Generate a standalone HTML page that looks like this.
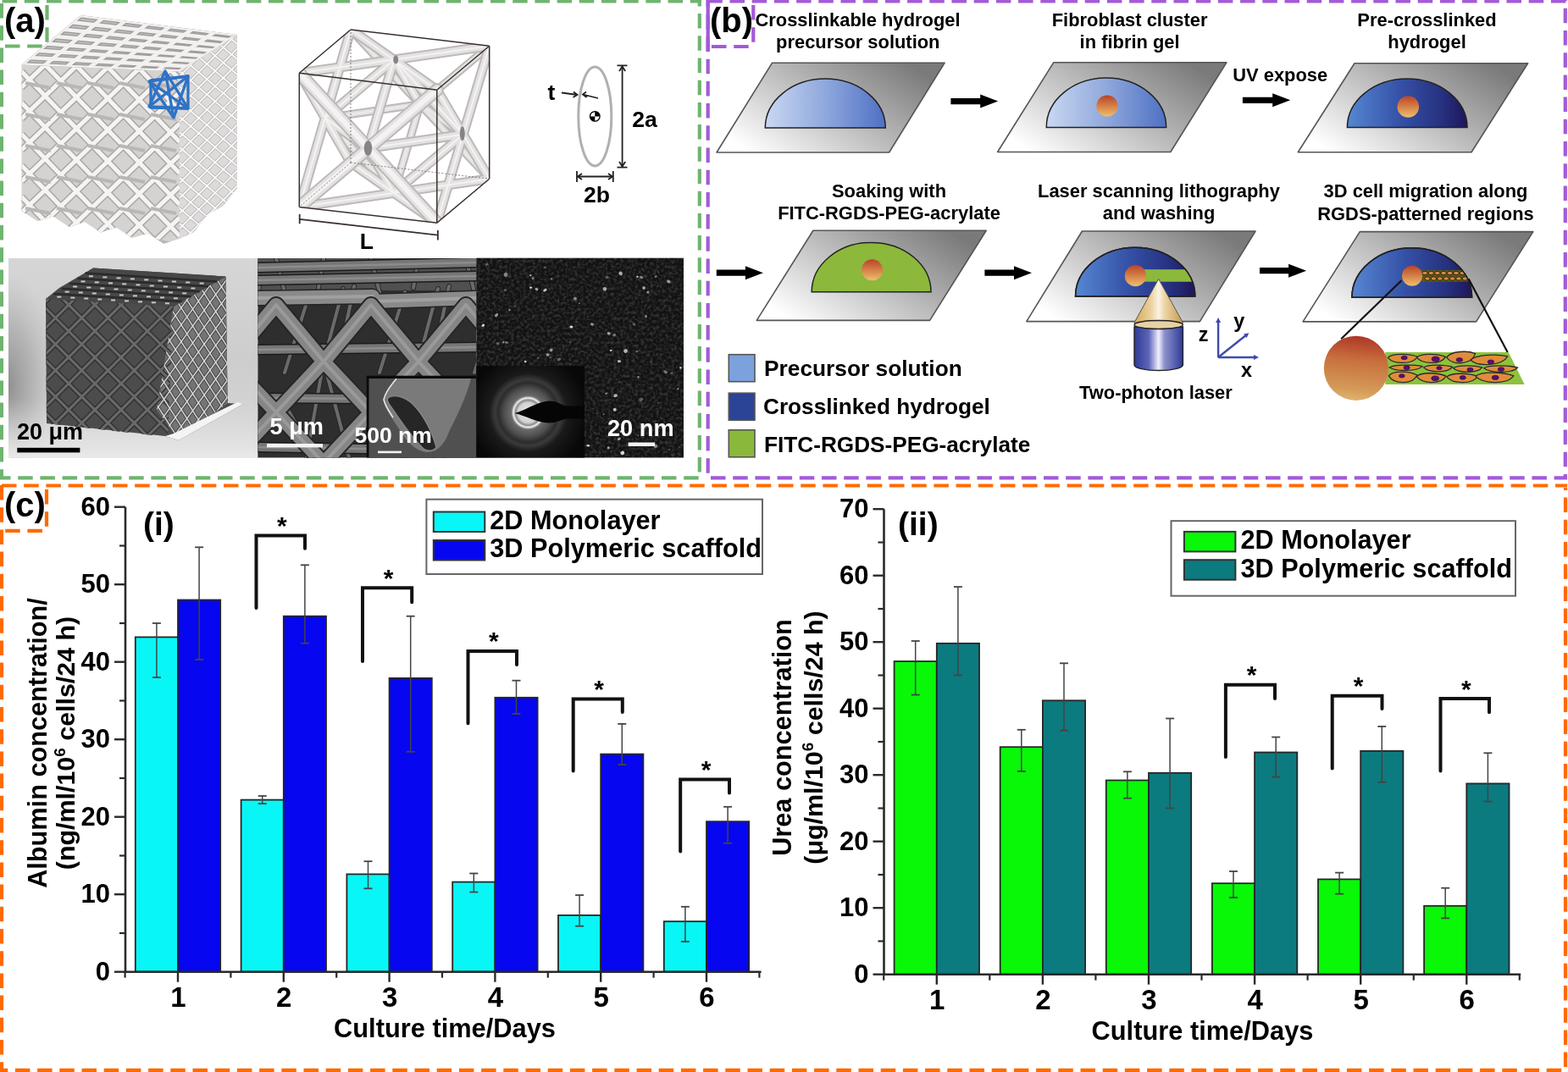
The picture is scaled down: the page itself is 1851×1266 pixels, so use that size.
<!DOCTYPE html>
<html><head><meta charset="utf-8"><title>Figure</title>
<style>
html,body{margin:0;padding:0;background:#fff;}
body{width:1851px;height:1266px;overflow:hidden;}
svg{display:block;}
text{font-family:"Liberation Sans",Arial,sans-serif;font-weight:bold;fill:#000;}
</style></head>
<body>
<svg width="1851" height="1266" viewBox="0 0 1851 1266">
<rect x="0" y="0" width="1851" height="1266" fill="#fff"/>
<line x1="2.6" y1="1.4" x2="828" y2="1.4" stroke="#6fb46f" stroke-width="4.2" stroke-dasharray="17.5 8.7" stroke-dashoffset="0"/>
<line x1="1.9" y1="4" x2="1.9" y2="566" stroke="#6fb46f" stroke-width="4.2" stroke-dasharray="17.5 8.7" stroke-dashoffset="0"/>
<line x1="825.8" y1="-10.1" x2="825.8" y2="562" stroke="#6fb46f" stroke-width="4.2" stroke-dasharray="17.5 8.7" stroke-dashoffset="0"/>
<line x1="-5" y1="564.3" x2="828" y2="564.3" stroke="#6fb46f" stroke-width="4.2" stroke-dasharray="17.5 8.7" stroke-dashoffset="0"/>
<line x1="55.5" y1="6" x2="55.5" y2="57" stroke="#6fb46f" stroke-width="4.2" stroke-dasharray="17.5 8.7" stroke-dashoffset="0"/>
<line x1="6" y1="54.5" x2="57" y2="54.5" stroke="#6fb46f" stroke-width="4.2" stroke-dasharray="17.5 8.7" stroke-dashoffset="0"/>
<line x1="835.3" y1="1.4" x2="1851" y2="1.4" stroke="#a35ad8" stroke-width="4.2" stroke-dasharray="17.5 8.7" stroke-dashoffset="0"/>
<line x1="835.7" y1="-8.9" x2="835.7" y2="566" stroke="#a35ad8" stroke-width="4.2" stroke-dasharray="17.5 8.7" stroke-dashoffset="0"/>
<line x1="835.7" y1="0" x2="835.7" y2="60.6" stroke="#a35ad8" stroke-width="4.2"/>
<line x1="1847.8" y1="-16.4" x2="1847.8" y2="566" stroke="#a35ad8" stroke-width="4.2" stroke-dasharray="17.5 8.7" stroke-dashoffset="0"/>
<line x1="839" y1="564.3" x2="1850" y2="564.3" stroke="#a35ad8" stroke-width="4.2" stroke-dasharray="17.5 8.7" stroke-dashoffset="0"/>
<line x1="889.3" y1="6" x2="889.3" y2="57" stroke="#a35ad8" stroke-width="4.2" stroke-dasharray="17.5 8.7" stroke-dashoffset="0"/>
<line x1="840" y1="55" x2="890" y2="55" stroke="#a35ad8" stroke-width="4.2" stroke-dasharray="17.5 8.7" stroke-dashoffset="0"/>
<line x1="2" y1="573.5" x2="1850" y2="573.5" stroke="#ff6a00" stroke-width="4.2" stroke-dasharray="17.5 8.7" stroke-dashoffset="0"/>
<line x1="2" y1="573" x2="2" y2="1266" stroke="#ff6a00" stroke-width="4.2" stroke-dasharray="17.5 8.7" stroke-dashoffset="0"/>
<line x1="1848" y1="576" x2="1848" y2="1266" stroke="#ff6a00" stroke-width="4.2" stroke-dasharray="17.5 8.7" stroke-dashoffset="14.6"/>
<line x1="2" y1="1263.8" x2="1850" y2="1263.8" stroke="#ff6a00" stroke-width="4.2" stroke-dasharray="17.5 8.7" stroke-dashoffset="10.3"/>
<line x1="55" y1="578" x2="55" y2="628" stroke="#ff6a00" stroke-width="4.2" stroke-dasharray="17.5 8.7" stroke-dashoffset="0"/>
<line x1="6.2" y1="626.8" x2="57" y2="626.8" stroke="#ff6a00" stroke-width="4.2" stroke-dasharray="17.5 8.7" stroke-dashoffset="0"/>
<defs>
<clipPath id="latFront"><polygon points="25.5,76.4 212,84.5 212.0,282.0 193.3,287.7 174.7,275.4 156.1,281.1 137.4,268.8 118.8,274.5 100.1,262.2 81.5,267.9 62.8,255.6 44.2,261.3 25.5,249.0"/></clipPath>
<clipPath id="latRight"><polygon points="212,84.5 280,41 280.0,222.0 263.0,244.0 246.0,252.0 229.0,274.0 212.0,282.0"/></clipPath>
<clipPath id="latTop"><polygon points="25.5,76.4 95,18 280,41 212,84.5"/></clipPath>
<clipPath id="sem1"><rect x="10" y="305" width="294.4" height="235.5"/></clipPath>
<clipPath id="sem2"><rect x="304.4" y="305" width="258.1" height="235.5"/></clipPath>
<clipPath id="tem"><rect x="562.5" y="304.7" width="244.5" height="235.8"/></clipPath>
<clipPath id="ins1"><rect x="435.5" y="447" width="127" height="93.5"/></clipPath>
<clipPath id="cubeFront"><polygon points="54,353 205,362 198,516 55,500"/></clipPath>
<clipPath id="cubeRight"><polygon points="205,362 266.5,326.5 268.7,476 211,519 185,484"/></clipPath>
<linearGradient id="sem1bg" x1="0" y1="0" x2="0" y2="1">
 <stop offset="0" stop-color="#d6d6d6"/><stop offset="0.5" stop-color="#cdcdcd"/><stop offset="1" stop-color="#d8d8d8"/>
</linearGradient>
<radialGradient id="sem1dark" gradientUnits="userSpaceOnUse" cx="8" cy="455" r="70" gradientTransform="translate(8 455) scale(0.85 1.9) translate(-8 -455)">
 <stop offset="0" stop-color="#8a8a8a" stop-opacity="0.95"/><stop offset="0.5" stop-color="#9c9c9c" stop-opacity="0.55"/><stop offset="1" stop-color="#b0b0b0" stop-opacity="0"/>
</radialGradient>
<linearGradient id="sem1floor" x1="0" y1="0" x2="0" y2="1">
 <stop offset="0" stop-color="#d8d8d8" stop-opacity="0"/><stop offset="1" stop-color="#e9e9e9" stop-opacity="1"/>
</linearGradient>
<radialGradient id="diff" gradientUnits="userSpaceOnUse" cx="623.4" cy="487.3" r="70">
 <stop offset="0" stop-color="#ececec"/><stop offset="0.17" stop-color="#d2d2d2"/><stop offset="0.215" stop-color="#8a8a8a"/><stop offset="0.245" stop-color="#f2f2f2"/><stop offset="0.285" stop-color="#6a6a6a"/><stop offset="0.4" stop-color="#505050"/><stop offset="0.5" stop-color="#2c2c2c"/><stop offset="0.56" stop-color="#3a3a3a"/><stop offset="0.66" stop-color="#1a1a1a"/><stop offset="1" stop-color="#080808"/>
</radialGradient>
<filter id="noiseT" x="0" y="0" width="1" height="1">
 <feTurbulence type="fractalNoise" baseFrequency="0.28" numOctaves="3" seed="5" result="n"/>
 <feColorMatrix type="matrix" values="0 0 0 0 1  0 0 0 0 1  0 0 0 0 1  1.7 0 0 0 -0.68" in="n" result="a0"/>
 <feGaussianBlur in="a0" stdDeviation="0.6" result="a"/>
 <feComposite operator="in" in="a" in2="SourceGraphic"/>
</filter>
<filter id="blur1"><feGaussianBlur stdDeviation="0.7"/></filter>
<filter id="blur2"><feGaussianBlur stdDeviation="1.2"/></filter>
</defs>
<polygon points="25.5,76.4 212,84.5 212.0,282.0 193.3,287.7 174.7,275.4 156.1,281.1 137.4,268.8 118.8,274.5 100.1,262.2 81.5,267.9 62.8,255.6 44.2,261.3 25.5,249.0" fill="#d5d2d2"/>
<polygon points="212,84.5 280,41 280.0,222.0 263.0,244.0 246.0,252.0 229.0,274.0 212.0,282.0" fill="#dddada"/>
<polygon points="25.5,76.4 95,18 280,41 212,84.5" fill="#c4c1c1"/>
<g clip-path="url(#latFront)"><path d="M25.5,-211.5 L212,-17.5 M25.5,-193.0 L212,-372.0 M25.5,-174.5 L212,19.5 M25.5,-156.0 L212,-335.0 M25.5,-137.5 L212,56.5 M25.5,-119.0 L212,-298.0 M25.5,-100.5 L212,93.5 M25.5,-82.0 L212,-261.0 M25.5,-63.5 L212,130.5 M25.5,-45.0 L212,-224.0 M25.5,-26.5 L212,167.5 M25.5,-8.0 L212,-187.0 M25.5,10.5 L212,204.5 M25.5,29.0 L212,-150.0 M25.5,47.5 L212,241.5 M25.5,66.0 L212,-113.0 M25.5,84.5 L212,278.5 M25.5,103.0 L212,-76.0 M25.5,121.5 L212,315.5 M25.5,140.0 L212,-39.0 M25.5,158.5 L212,352.5 M25.5,177.0 L212,-2.0 M25.5,195.5 L212,389.5 M25.5,214.0 L212,35.0 M25.5,232.5 L212,426.5 M25.5,251.0 L212,72.0 M25.5,269.5 L212,463.5 M25.5,288.0 L212,109.0 M25.5,306.5 L212,500.5 M25.5,325.0 L212,146.0 M25.5,343.5 L212,537.5 M25.5,362.0 L212,183.0 M25.5,380.5 L212,574.5 M25.5,399.0 L212,220.0 M25.5,417.5 L212,611.5 M25.5,436.0 L212,257.0 M25.5,454.5 L212,648.5 M25.5,473.0 L212,294.0 M25.5,491.5 L212,685.5 M25.5,510.0 L212,331.0 M25.5,528.5 L212,722.5 M25.5,547.0 L212,368.0 M25.5,565.5 L212,759.5 M25.5,584.0 L212,405.0 M25.5,602.5 L212,796.5 M25.5,621.0 L212,442.0 M25.5,639.5 L212,833.5 M25.5,658.0 L212,479.0" stroke="#aaa7a7" stroke-width="8" fill="none"/><path d="M25.5,-211.5 L212,-17.5 M25.5,-193.0 L212,-372.0 M25.5,-174.5 L212,19.5 M25.5,-156.0 L212,-335.0 M25.5,-137.5 L212,56.5 M25.5,-119.0 L212,-298.0 M25.5,-100.5 L212,93.5 M25.5,-82.0 L212,-261.0 M25.5,-63.5 L212,130.5 M25.5,-45.0 L212,-224.0 M25.5,-26.5 L212,167.5 M25.5,-8.0 L212,-187.0 M25.5,10.5 L212,204.5 M25.5,29.0 L212,-150.0 M25.5,47.5 L212,241.5 M25.5,66.0 L212,-113.0 M25.5,84.5 L212,278.5 M25.5,103.0 L212,-76.0 M25.5,121.5 L212,315.5 M25.5,140.0 L212,-39.0 M25.5,158.5 L212,352.5 M25.5,177.0 L212,-2.0 M25.5,195.5 L212,389.5 M25.5,214.0 L212,35.0 M25.5,232.5 L212,426.5 M25.5,251.0 L212,72.0 M25.5,269.5 L212,463.5 M25.5,288.0 L212,109.0 M25.5,306.5 L212,500.5 M25.5,325.0 L212,146.0 M25.5,343.5 L212,537.5 M25.5,362.0 L212,183.0 M25.5,380.5 L212,574.5 M25.5,399.0 L212,220.0 M25.5,417.5 L212,611.5 M25.5,436.0 L212,257.0 M25.5,454.5 L212,648.5 M25.5,473.0 L212,294.0 M25.5,491.5 L212,685.5 M25.5,510.0 L212,331.0 M25.5,528.5 L212,722.5 M25.5,547.0 L212,368.0 M25.5,565.5 L212,759.5 M25.5,584.0 L212,405.0 M25.5,602.5 L212,796.5 M25.5,621.0 L212,442.0 M25.5,639.5 L212,833.5 M25.5,658.0 L212,479.0" stroke="#f6f3f3" stroke-width="5" fill="none"/></g>
<g clip-path="url(#latFront)"><path d="M30.0,98.0 l30,6 M67.0,98.0 l30,6 M104.0,98.0 l30,6 M141.0,98.0 l30,6 M178.0,98.0 l30,6 M215.0,98.0 l30,6 M30.0,135.0 l30,6 M67.0,135.0 l30,6 M104.0,135.0 l30,6 M141.0,135.0 l30,6 M178.0,135.0 l30,6 M215.0,135.0 l30,6 M30.0,172.0 l30,6 M67.0,172.0 l30,6 M104.0,172.0 l30,6 M141.0,172.0 l30,6 M178.0,172.0 l30,6 M215.0,172.0 l30,6 M30.0,209.0 l30,6 M67.0,209.0 l30,6 M104.0,209.0 l30,6 M141.0,209.0 l30,6 M178.0,209.0 l30,6 M215.0,209.0 l30,6 M30.0,246.0 l30,6 M67.0,246.0 l30,6 M104.0,246.0 l30,6 M141.0,246.0 l30,6 M178.0,246.0 l30,6 M215.0,246.0 l30,6 M30.0,283.0 l30,6 M67.0,283.0 l30,6 M104.0,283.0 l30,6 M141.0,283.0 l30,6 M178.0,283.0 l30,6 M215.0,283.0 l30,6 M30.0,320.0 l30,6 M67.0,320.0 l30,6 M104.0,320.0 l30,6 M141.0,320.0 l30,6 M178.0,320.0 l30,6 M215.0,320.0 l30,6" stroke="#b9b6b6" stroke-width="4" fill="none"/></g>
<g clip-path="url(#latRight)"><path d="M212,-90.0 L280,-158.5 M212,-150.0 L280,-92.0 M212,-72.0 L280,-140.5 M212,-132.0 L280,-74.0 M212,-54.0 L280,-122.5 M212,-114.0 L280,-56.0 M212,-36.0 L280,-104.5 M212,-96.0 L280,-38.0 M212,-18.0 L280,-86.5 M212,-78.0 L280,-20.0 M212,0.0 L280,-68.5 M212,-60.0 L280,-2.0 M212,18.0 L280,-50.5 M212,-42.0 L280,16.0 M212,36.0 L280,-32.5 M212,-24.0 L280,34.0 M212,54.0 L280,-14.5 M212,-6.0 L280,52.0 M212,72.0 L280,3.5 M212,12.0 L280,70.0 M212,90.0 L280,21.5 M212,30.0 L280,88.0 M212,108.0 L280,39.5 M212,48.0 L280,106.0 M212,126.0 L280,57.5 M212,66.0 L280,124.0 M212,144.0 L280,75.5 M212,84.0 L280,142.0 M212,162.0 L280,93.5 M212,102.0 L280,160.0 M212,180.0 L280,111.5 M212,120.0 L280,178.0 M212,198.0 L280,129.5 M212,138.0 L280,196.0 M212,216.0 L280,147.5 M212,156.0 L280,214.0 M212,234.0 L280,165.5 M212,174.0 L280,232.0 M212,252.0 L280,183.5 M212,192.0 L280,250.0 M212,270.0 L280,201.5 M212,210.0 L280,268.0 M212,288.0 L280,219.5 M212,228.0 L280,286.0 M212,306.0 L280,237.5 M212,246.0 L280,304.0 M212,324.0 L280,255.5 M212,264.0 L280,322.0" stroke="#b8b5b5" stroke-width="3.5" fill="none"/><path d="M212,-90.0 L280,-158.5 M212,-150.0 L280,-92.0 M212,-72.0 L280,-140.5 M212,-132.0 L280,-74.0 M212,-54.0 L280,-122.5 M212,-114.0 L280,-56.0 M212,-36.0 L280,-104.5 M212,-96.0 L280,-38.0 M212,-18.0 L280,-86.5 M212,-78.0 L280,-20.0 M212,0.0 L280,-68.5 M212,-60.0 L280,-2.0 M212,18.0 L280,-50.5 M212,-42.0 L280,16.0 M212,36.0 L280,-32.5 M212,-24.0 L280,34.0 M212,54.0 L280,-14.5 M212,-6.0 L280,52.0 M212,72.0 L280,3.5 M212,12.0 L280,70.0 M212,90.0 L280,21.5 M212,30.0 L280,88.0 M212,108.0 L280,39.5 M212,48.0 L280,106.0 M212,126.0 L280,57.5 M212,66.0 L280,124.0 M212,144.0 L280,75.5 M212,84.0 L280,142.0 M212,162.0 L280,93.5 M212,102.0 L280,160.0 M212,180.0 L280,111.5 M212,120.0 L280,178.0 M212,198.0 L280,129.5 M212,138.0 L280,196.0 M212,216.0 L280,147.5 M212,156.0 L280,214.0 M212,234.0 L280,165.5 M212,174.0 L280,232.0 M212,252.0 L280,183.5 M212,192.0 L280,250.0 M212,270.0 L280,201.5 M212,210.0 L280,268.0 M212,288.0 L280,219.5 M212,228.0 L280,286.0 M212,306.0 L280,237.5 M212,246.0 L280,304.0 M212,324.0 L280,255.5 M212,264.0 L280,322.0" stroke="#fbfafa" stroke-width="1.8" fill="none"/></g>
<g clip-path="url(#latTop)"><path d="M25.5,76.4 L212.0,84.5 M35.4,68.1 L221.7,78.3 M45.4,59.7 L231.4,72.1 M55.3,51.4 L241.1,65.9 M65.2,43.0 L250.9,59.6 M75.1,34.7 L260.6,53.4 M85.1,26.3 L270.3,47.2 M95.0,18.0 L280.0,41.0 M25.5,76.4 L95.0,18.0 M52.1,77.6 L121.4,21.3 M78.8,78.7 L147.9,24.6 M105.4,79.9 L174.3,27.9 M132.1,81.0 L200.7,31.1 M158.7,82.2 L227.1,34.4 M185.4,83.3 L253.6,37.7 M212.0,84.5 L280.0,41.0" stroke="#a09d9d" stroke-width="7.5" fill="none"/><path d="M25.5,76.4 L212.0,84.5 M35.4,68.1 L221.7,78.3 M45.4,59.7 L231.4,72.1 M55.3,51.4 L241.1,65.9 M65.2,43.0 L250.9,59.6 M75.1,34.7 L260.6,53.4 M85.1,26.3 L270.3,47.2 M95.0,18.0 L280.0,41.0 M25.5,76.4 L95.0,18.0 M52.1,77.6 L121.4,21.3 M78.8,78.7 L147.9,24.6 M105.4,79.9 L174.3,27.9 M132.1,81.0 L200.7,31.1 M158.7,82.2 L227.1,34.4 M185.4,83.3 L253.6,37.7 M212.0,84.5 L280.0,41.0" stroke="#f3f0f0" stroke-width="4.5" fill="none"/></g>
<g stroke="#2e73c6" stroke-width="3.3" fill="none" stroke-linejoin="round"><polygon points="176,96 222,90 205,139"/><polygon points="176,126 222,128 195,84"/><polygon points="178,95 178,127 222,128 222,90"/><line x1="195" y1="84" x2="205" y2="139"/><line x1="176" y1="96" x2="222" y2="128"/><line x1="176" y1="126" x2="222" y2="90"/></g>
<clipPath id="ucHull"><polygon points="353.3,86.3 414,35 577.7,54.3 577.7,211.2 515.8,263.2 353.3,244.4"/></clipPath>
<g clip-path="url(#ucHull)">
<path d="M414.0,35.0 L577.7,211.2 M414.0,192.0 L577.7,54.3 M465.2,227.7 L495.9,123.1 M465.2,227.7 L383.6,139.4 M495.9,123.1 L383.6,139.4 M495.9,123.1 L546.8,158.7" stroke="#bdb9b9" stroke-width="10" fill="none" stroke-linecap="round"/><path d="M414.0,35.0 L577.7,211.2 M414.0,192.0 L577.7,54.3 M465.2,227.7 L495.9,123.1 M465.2,227.7 L383.6,139.4 M495.9,123.1 L383.6,139.4 M495.9,123.1 L546.8,158.7" stroke="#e4e1e1" stroke-width="6" fill="none" stroke-linecap="round"/><path d="M414.0,35.0 L577.7,211.2 M414.0,192.0 L577.7,54.3 M465.2,227.7 L495.9,123.1 M465.2,227.7 L383.6,139.4 M495.9,123.1 L383.6,139.4 M495.9,123.1 L546.8,158.7" stroke="#f4f3f3" stroke-width="1" fill="none" stroke-linecap="round"/>
<path d="M414.0,35.0 L515.8,106.2 M353.3,86.3 L577.7,54.3 M515.8,106.2 L577.7,211.2 M577.7,54.3 L515.8,263.2 M353.3,86.3 L414.0,192.0 M414.0,35.0 L353.3,244.4 M353.3,244.4 L577.7,211.2 M414.0,192.0 L515.8,263.2 M465.2,70.5 L434.5,175.0 M465.2,70.5 L495.9,123.1 M465.2,70.5 L383.6,139.4 M465.2,70.5 L546.8,158.7 M465.2,227.7 L434.5,175.0 M465.2,227.7 L546.8,158.7 M434.5,175.0 L383.6,139.4 M434.5,175.0 L546.8,158.7" stroke="#bdb9b9" stroke-width="12" fill="none" stroke-linecap="round"/><path d="M414.0,35.0 L515.8,106.2 M353.3,86.3 L577.7,54.3 M515.8,106.2 L577.7,211.2 M577.7,54.3 L515.8,263.2 M353.3,86.3 L414.0,192.0 M414.0,35.0 L353.3,244.4 M353.3,244.4 L577.7,211.2 M414.0,192.0 L515.8,263.2 M465.2,70.5 L434.5,175.0 M465.2,70.5 L495.9,123.1 M465.2,70.5 L383.6,139.4 M465.2,70.5 L546.8,158.7 M465.2,227.7 L434.5,175.0 M465.2,227.7 L546.8,158.7 M434.5,175.0 L383.6,139.4 M434.5,175.0 L546.8,158.7" stroke="#e4e1e1" stroke-width="8" fill="none" stroke-linecap="round"/><path d="M414.0,35.0 L515.8,106.2 M353.3,86.3 L577.7,54.3 M515.8,106.2 L577.7,211.2 M577.7,54.3 L515.8,263.2 M353.3,86.3 L414.0,192.0 M414.0,35.0 L353.3,244.4 M353.3,244.4 L577.7,211.2 M414.0,192.0 L515.8,263.2 M465.2,70.5 L434.5,175.0 M465.2,70.5 L495.9,123.1 M465.2,70.5 L383.6,139.4 M465.2,70.5 L546.8,158.7 M465.2,227.7 L434.5,175.0 M465.2,227.7 L546.8,158.7 M434.5,175.0 L383.6,139.4 M434.5,175.0 L546.8,158.7" stroke="#f4f3f3" stroke-width="2" fill="none" stroke-linecap="round"/>
<path d="M353.3,86.3 L515.8,263.2 M353.3,244.4 L515.8,106.2" stroke="#bdb9b9" stroke-width="16" fill="none" stroke-linecap="round"/><path d="M353.3,86.3 L515.8,263.2 M353.3,244.4 L515.8,106.2" stroke="#e4e1e1" stroke-width="12" fill="none" stroke-linecap="round"/><path d="M353.3,86.3 L515.8,263.2 M353.3,244.4 L515.8,106.2" stroke="#f4f3f3" stroke-width="6" fill="none" stroke-linecap="round"/>
</g>
<ellipse cx="434.5" cy="175.0" rx="4.8" ry="9" fill="#858585"/><ellipse cx="545.8" cy="157.7" rx="3" ry="8.5" fill="#858585"/><ellipse cx="467.2" cy="70.5" rx="3" ry="5" fill="#858585"/>
<path d="M353.3,86.3 L515.8,106.2 M515.8,106.2 L515.8,263.2 M515.8,263.2 L353.3,244.4 M353.3,244.4 L353.3,86.3 M414.0,35.0 L577.7,54.3 M577.7,54.3 L577.7,211.2 M353.3,86.3 L414.0,35.0 M515.8,106.2 L577.7,54.3 M515.8,263.2 L577.7,211.2" stroke="#3a2e2e" stroke-width="1.5" fill="none"/>
<path d="M414.0,192.0 L414.0,35.0 M414.0,192.0 L577.7,211.2 M414.0,192.0 L353.3,244.4" stroke="#777" stroke-width="0.9" stroke-dasharray="2 2" fill="none"/>
<path d="M353.7,253 L353.7,264.3 M353.7,258.8 L516.9,277.6 M516.9,272 L516.9,283.5" stroke="#3a2e2e" stroke-width="1.8" fill="none"/>
<text x="432.8" y="294.2" font-size="26.6" text-anchor="middle">L</text>
<ellipse cx="702.3" cy="137.4" rx="19.5" ry="58.5" fill="none" stroke="#b0b0b0" stroke-width="3"/>
<circle cx="702.3" cy="137.4" r="5.8" fill="#fff" stroke="#000" stroke-width="1.3"/><path d="M702.3,137.4 L702.3,131.6 A5.8,5.8 0 0 1 708.1,137.4 Z M702.3,137.4 L702.3,143.2 A5.8,5.8 0 0 1 696.5,137.4 Z" fill="#000"/>
<g stroke="#222" stroke-width="1.8" fill="none"><path d="M728.5,77.3 L740.5,77.3 M734.6,77.3 L734.6,197.6 M728.5,197.6 L740.5,197.6"/><path d="M731,84 L734.6,78.5 L738.2,84 M731,191 L734.6,196.5 L738.2,191"/><path d="M681,202 L681,215 M681,208.5 L723.8,208.5 M723.8,202 L723.8,215"/><path d="M687,205 L682,208.5 L687,212 M718,205 L723,208.5 L718,212"/><path d="M663,109.5 L681.5,112 M677,108.5 L681.5,112 L676.5,115 M706,116 L688,111.5 M692,108.5 L688,111.5 L692.5,115"/></g>
<text x="651" y="118" font-size="26.6" text-anchor="middle">t</text>
<text x="761" y="150.3" font-size="26.6" text-anchor="middle">2a</text>
<text x="704.5" y="239" font-size="26.6" text-anchor="middle">2b</text>
<rect x="10" y="305" width="294.4" height="235.5" fill="url(#sem1bg)"/>
<rect x="10" y="305" width="294.4" height="235.5" fill="url(#sem1dark)"/>
<rect x="10" y="470" width="294.4" height="70.5" fill="url(#sem1floor)"/>
<polygon points="54,353 70,340 110,316.5 266.5,326.5 268.7,476 287,477 211,520 195,515 55,500" fill="#4c4c4c"/>
<polygon points="205,362 266.5,326.5 268.7,476 211,519 185,484" fill="#747474"/>
<polygon points="54,353 110,316.5 266.5,326.5 205,362" fill="#474747"/>
<g clip-path="url(#cubeFront)"><path d="M50,-12.0 L215,153.0 M50,-12.0 L215,-177.0 M50,19.0 L215,184.0 M50,19.0 L215,-146.0 M50,50.0 L215,215.0 M50,50.0 L215,-115.0 M50,81.0 L215,246.0 M50,81.0 L215,-84.0 M50,112.0 L215,277.0 M50,112.0 L215,-53.0 M50,143.0 L215,308.0 M50,143.0 L215,-22.0 M50,174.0 L215,339.0 M50,174.0 L215,9.0 M50,205.0 L215,370.0 M50,205.0 L215,40.0 M50,236.0 L215,401.0 M50,236.0 L215,71.0 M50,267.0 L215,432.0 M50,267.0 L215,102.0 M50,298.0 L215,463.0 M50,298.0 L215,133.0 M50,329.0 L215,494.0 M50,329.0 L215,164.0 M50,360.0 L215,525.0 M50,360.0 L215,195.0 M50,391.0 L215,556.0 M50,391.0 L215,226.0 M50,422.0 L215,587.0 M50,422.0 L215,257.0 M50,453.0 L215,618.0 M50,453.0 L215,288.0 M50,484.0 L215,649.0 M50,484.0 L215,319.0 M50,515.0 L215,680.0 M50,515.0 L215,350.0 M50,546.0 L215,711.0 M50,546.0 L215,381.0 M50,577.0 L215,742.0 M50,577.0 L215,412.0 M50,608.0 L215,773.0 M50,608.0 L215,443.0 M50,639.0 L215,804.0 M50,639.0 L215,474.0 M50,670.0 L215,835.0 M50,670.0 L215,505.0 M50,701.0 L215,866.0 M50,701.0 L215,536.0 M50,732.0 L215,897.0 M50,732.0 L215,567.0 M50,763.0 L215,928.0 M50,763.0 L215,598.0 M50,794.0 L215,959.0 M50,794.0 L215,629.0 M50,825.0 L215,990.0 M50,825.0 L215,660.0" stroke="#333333" stroke-width="6" fill="none"/><path d="M50,-12.0 L215,153.0 M50,-12.0 L215,-177.0 M50,19.0 L215,184.0 M50,19.0 L215,-146.0 M50,50.0 L215,215.0 M50,50.0 L215,-115.0 M50,81.0 L215,246.0 M50,81.0 L215,-84.0 M50,112.0 L215,277.0 M50,112.0 L215,-53.0 M50,143.0 L215,308.0 M50,143.0 L215,-22.0 M50,174.0 L215,339.0 M50,174.0 L215,9.0 M50,205.0 L215,370.0 M50,205.0 L215,40.0 M50,236.0 L215,401.0 M50,236.0 L215,71.0 M50,267.0 L215,432.0 M50,267.0 L215,102.0 M50,298.0 L215,463.0 M50,298.0 L215,133.0 M50,329.0 L215,494.0 M50,329.0 L215,164.0 M50,360.0 L215,525.0 M50,360.0 L215,195.0 M50,391.0 L215,556.0 M50,391.0 L215,226.0 M50,422.0 L215,587.0 M50,422.0 L215,257.0 M50,453.0 L215,618.0 M50,453.0 L215,288.0 M50,484.0 L215,649.0 M50,484.0 L215,319.0 M50,515.0 L215,680.0 M50,515.0 L215,350.0 M50,546.0 L215,711.0 M50,546.0 L215,381.0 M50,577.0 L215,742.0 M50,577.0 L215,412.0 M50,608.0 L215,773.0 M50,608.0 L215,443.0 M50,639.0 L215,804.0 M50,639.0 L215,474.0 M50,670.0 L215,835.0 M50,670.0 L215,505.0 M50,701.0 L215,866.0 M50,701.0 L215,536.0 M50,732.0 L215,897.0 M50,732.0 L215,567.0 M50,763.0 L215,928.0 M50,763.0 L215,598.0 M50,794.0 L215,959.0 M50,794.0 L215,629.0 M50,825.0 L215,990.0 M50,825.0 L215,660.0" stroke="#6a6a6a" stroke-width="3" fill="none"/></g>
<g clip-path="url(#cubeRight)"><path d="M180,50.0 L275,200.0 M180,50.0 L275,-80.0 M180,70.0 L275,220.0 M180,70.0 L275,-60.0 M180,90.0 L275,240.0 M180,90.0 L275,-40.0 M180,110.0 L275,260.0 M180,110.0 L275,-20.0 M180,130.0 L275,280.0 M180,130.0 L275,0.0 M180,150.0 L275,300.0 M180,150.0 L275,20.0 M180,170.0 L275,320.0 M180,170.0 L275,40.0 M180,190.0 L275,340.0 M180,190.0 L275,60.0 M180,210.0 L275,360.0 M180,210.0 L275,80.0 M180,230.0 L275,380.0 M180,230.0 L275,100.0 M180,250.0 L275,400.0 M180,250.0 L275,120.0 M180,270.0 L275,420.0 M180,270.0 L275,140.0 M180,290.0 L275,440.0 M180,290.0 L275,160.0 M180,310.0 L275,460.0 M180,310.0 L275,180.0 M180,330.0 L275,480.0 M180,330.0 L275,200.0 M180,350.0 L275,500.0 M180,350.0 L275,220.0 M180,370.0 L275,520.0 M180,370.0 L275,240.0 M180,390.0 L275,540.0 M180,390.0 L275,260.0 M180,410.0 L275,560.0 M180,410.0 L275,280.0 M180,430.0 L275,580.0 M180,430.0 L275,300.0 M180,450.0 L275,600.0 M180,450.0 L275,320.0 M180,470.0 L275,620.0 M180,470.0 L275,340.0 M180,490.0 L275,640.0 M180,490.0 L275,360.0 M180,510.0 L275,660.0 M180,510.0 L275,380.0 M180,530.0 L275,680.0 M180,530.0 L275,400.0 M180,550.0 L275,700.0 M180,550.0 L275,420.0 M180,570.0 L275,720.0 M180,570.0 L275,440.0 M180,590.0 L275,740.0 M180,590.0 L275,460.0 M180,610.0 L275,760.0 M180,610.0 L275,480.0 M180,630.0 L275,780.0 M180,630.0 L275,500.0 M180,650.0 L275,800.0 M180,650.0 L275,520.0 M180,670.0 L275,820.0 M180,670.0 L275,540.0" stroke="#4a4a4a" stroke-width="3.5" fill="none"/><path d="M180,50.0 L275,200.0 M180,50.0 L275,-80.0 M180,70.0 L275,220.0 M180,70.0 L275,-60.0 M180,90.0 L275,240.0 M180,90.0 L275,-40.0 M180,110.0 L275,260.0 M180,110.0 L275,-20.0 M180,130.0 L275,280.0 M180,130.0 L275,0.0 M180,150.0 L275,300.0 M180,150.0 L275,20.0 M180,170.0 L275,320.0 M180,170.0 L275,40.0 M180,190.0 L275,340.0 M180,190.0 L275,60.0 M180,210.0 L275,360.0 M180,210.0 L275,80.0 M180,230.0 L275,380.0 M180,230.0 L275,100.0 M180,250.0 L275,400.0 M180,250.0 L275,120.0 M180,270.0 L275,420.0 M180,270.0 L275,140.0 M180,290.0 L275,440.0 M180,290.0 L275,160.0 M180,310.0 L275,460.0 M180,310.0 L275,180.0 M180,330.0 L275,480.0 M180,330.0 L275,200.0 M180,350.0 L275,500.0 M180,350.0 L275,220.0 M180,370.0 L275,520.0 M180,370.0 L275,240.0 M180,390.0 L275,540.0 M180,390.0 L275,260.0 M180,410.0 L275,560.0 M180,410.0 L275,280.0 M180,430.0 L275,580.0 M180,430.0 L275,300.0 M180,450.0 L275,600.0 M180,450.0 L275,320.0 M180,470.0 L275,620.0 M180,470.0 L275,340.0 M180,490.0 L275,640.0 M180,490.0 L275,360.0 M180,510.0 L275,660.0 M180,510.0 L275,380.0 M180,530.0 L275,680.0 M180,530.0 L275,400.0 M180,550.0 L275,700.0 M180,550.0 L275,420.0 M180,570.0 L275,720.0 M180,570.0 L275,440.0 M180,590.0 L275,740.0 M180,590.0 L275,460.0 M180,610.0 L275,760.0 M180,610.0 L275,480.0 M180,630.0 L275,780.0 M180,630.0 L275,500.0 M180,650.0 L275,800.0 M180,650.0 L275,520.0 M180,670.0 L275,820.0 M180,670.0 L275,540.0" stroke="#d8d8d8" stroke-width="1.4" fill="none"/></g>
<path d="M63.3,346.9 L215.2,356.1 M72.7,340.8 L225.5,350.2 M82.0,334.8 L235.8,344.2 M91.3,328.7 L246.0,338.3 M100.7,322.6 L256.2,332.4" stroke="#2a2a2a" stroke-width="2.5" fill="none"/>
<rect x="67.3" y="349.6" width="5" height="2" fill="#c8c8c8"/><rect x="83.3" y="350.6" width="5" height="2" fill="#c8c8c8"/><rect x="99.2" y="351.5" width="5" height="2" fill="#c8c8c8"/><rect x="115.2" y="352.5" width="5" height="2" fill="#c8c8c8"/><rect x="131.1" y="353.5" width="5" height="2" fill="#c8c8c8"/><rect x="147.0" y="354.4" width="5" height="2" fill="#c8c8c8"/><rect x="163.0" y="355.4" width="5" height="2" fill="#c8c8c8"/><rect x="178.9" y="356.3" width="5" height="2" fill="#c8c8c8"/><rect x="194.9" y="357.3" width="5" height="2" fill="#c8c8c8"/><rect x="76.7" y="343.6" width="5" height="2" fill="#c8c8c8"/><rect x="92.8" y="344.5" width="5" height="2" fill="#c8c8c8"/><rect x="108.8" y="345.5" width="5" height="2" fill="#c8c8c8"/><rect x="124.8" y="346.5" width="5" height="2" fill="#c8c8c8"/><rect x="140.9" y="347.5" width="5" height="2" fill="#c8c8c8"/><rect x="156.9" y="348.4" width="5" height="2" fill="#c8c8c8"/><rect x="173.0" y="349.4" width="5" height="2" fill="#c8c8c8"/><rect x="189.0" y="350.4" width="5" height="2" fill="#c8c8c8"/><rect x="205.0" y="351.3" width="5" height="2" fill="#c8c8c8"/><rect x="86.1" y="337.5" width="5" height="2" fill="#c8c8c8"/><rect x="102.3" y="338.5" width="5" height="2" fill="#c8c8c8"/><rect x="118.4" y="339.5" width="5" height="2" fill="#c8c8c8"/><rect x="134.5" y="340.5" width="5" height="2" fill="#c8c8c8"/><rect x="150.7" y="341.5" width="5" height="2" fill="#c8c8c8"/><rect x="166.8" y="342.4" width="5" height="2" fill="#c8c8c8"/><rect x="182.9" y="343.4" width="5" height="2" fill="#c8c8c8"/><rect x="199.1" y="344.4" width="5" height="2" fill="#c8c8c8"/><rect x="215.2" y="345.4" width="5" height="2" fill="#c8c8c8"/><rect x="95.5" y="331.4" width="5" height="2" fill="#c8c8c8"/><rect x="111.8" y="332.4" width="5" height="2" fill="#c8c8c8"/><rect x="128.0" y="333.4" width="5" height="2" fill="#c8c8c8"/><rect x="144.2" y="334.4" width="5" height="2" fill="#c8c8c8"/><rect x="160.5" y="335.4" width="5" height="2" fill="#c8c8c8"/><rect x="176.7" y="336.5" width="5" height="2" fill="#c8c8c8"/><rect x="192.9" y="337.5" width="5" height="2" fill="#c8c8c8"/><rect x="209.2" y="338.5" width="5" height="2" fill="#c8c8c8"/><rect x="225.4" y="339.5" width="5" height="2" fill="#c8c8c8"/><rect x="104.9" y="325.3" width="5" height="2" fill="#c8c8c8"/><rect x="121.3" y="326.4" width="5" height="2" fill="#c8c8c8"/><rect x="137.6" y="327.4" width="5" height="2" fill="#c8c8c8"/><rect x="153.9" y="328.4" width="5" height="2" fill="#c8c8c8"/><rect x="170.2" y="329.4" width="5" height="2" fill="#c8c8c8"/><rect x="186.6" y="330.5" width="5" height="2" fill="#c8c8c8"/><rect x="202.9" y="331.5" width="5" height="2" fill="#c8c8c8"/><rect x="219.2" y="332.5" width="5" height="2" fill="#c8c8c8"/><rect x="235.6" y="333.6" width="5" height="2" fill="#c8c8c8"/>
<polygon points="195,515 211,520 287,477 280,475 205,512" fill="#f4f4f4"/>
<text x="20" y="519" font-size="27">20 μm</text>
<rect x="20.3" y="528.8" width="74.1" height="5.6" fill="#000"/>
<rect x="304.4" y="305" width="258.1" height="235.5" fill="#2e2e2e"/>
<g clip-path="url(#sem2)">
<rect x="304" y="305" width="260" height="38" fill="#505050"/>
<path d="M405,341 L387,408 M306,338 L291,410 M366,345 L336,440 M326,305 L336,345 M382,305 L376,340 M517,341 L499,408 M418,338 L403,410 M478,345 L448,440 M438,305 L448,345 M494,305 L488,340 M629,341 L611,408 M530,338 L515,410 M590,345 L560,440 M550,305 L560,345 M606,305 L600,340 M382,427 L362,540 M382,427 L412,540 M332,470 L372,540 M494,427 L474,540 M494,427 L524,540 M444,470 L484,540" stroke="#262626" stroke-width="6" fill="none" stroke-linecap="round" opacity="1"/>
<path d="M405,341 L387,408 M306,338 L291,410 M366,345 L336,440 M326,305 L336,345 M382,305 L376,340 M517,341 L499,408 M418,338 L403,410 M478,345 L448,440 M438,305 L448,345 M494,305 L488,340 M629,341 L611,408 M530,338 L515,410 M590,345 L560,440 M550,305 L560,345 M606,305 L600,340 M382,427 L362,540 M382,427 L412,540 M332,470 L372,540 M494,427 L474,540 M494,427 L524,540 M444,470 L484,540" stroke="#6a6a6a" stroke-width="4" fill="none" stroke-linecap="round" opacity="1"/>
<path d="M304,316 L562,310 M304,331 L562,326 M304,413 L562,410 M304,470 L562,472 M304,528 L562,532" stroke="#1c1c1c" stroke-width="13" fill="none" stroke-linecap="round" opacity="1"/>
<path d="M304,316 L562,310 M304,331 L562,326 M304,413 L562,410 M304,470 L562,472 M304,528 L562,532" stroke="#767676" stroke-width="10" fill="none" stroke-linecap="round" opacity="1"/>
<path d="M304,316 L562,310 M304,331 L562,326 M304,413 L562,410 M304,470 L562,472 M304,528 L562,532" stroke="#8c8c8c" stroke-width="2.5" fill="none" stroke-linecap="round" opacity="1"/>
<path d="M304,352 L440,350 M440,356 L562,352" stroke="#242424" stroke-width="19" fill="none" stroke-linecap="round" opacity="1"/>
<path d="M304,352 L440,350 M440,356 L562,352" stroke="#8a8a8a" stroke-width="16" fill="none" stroke-linecap="round" opacity="1"/>
<path d="M304,352 L440,350 M440,356 L562,352" stroke="#a0a0a0" stroke-width="4" fill="none" stroke-linecap="round" opacity="1"/>
<path d="M214,360 L270,427 M270,427 L326,360 M214,487 L270,427 M270,427 L326,487 M214,487 L270,547 M270,547 L326,487 M326,360 L382,427 M382,427 L438,360 M326,487 L382,427 M382,427 L438,487 M326,487 L382,547 M382,547 L438,487 M438,360 L494,427 M494,427 L550,360 M438,487 L494,427 M494,427 L550,487 M438,487 L494,547 M494,547 L550,487 M550,360 L606,427 M606,427 L662,360 M550,487 L606,427 M606,427 L662,487 M550,487 L606,547 M606,547 L662,487" stroke="#262626" stroke-width="20" fill="none" stroke-linecap="round" opacity="1"/>
<path d="M214,360 L270,427 M270,427 L326,360 M214,487 L270,427 M270,427 L326,487 M214,487 L270,547 M270,547 L326,487 M326,360 L382,427 M382,427 L438,360 M326,487 L382,427 M382,427 L438,487 M326,487 L382,547 M382,547 L438,487 M438,360 L494,427 M494,427 L550,360 M438,487 L494,427 M494,427 L550,487 M438,487 L494,547 M494,547 L550,487 M550,360 L606,427 M606,427 L662,360 M550,487 L606,427 M606,427 L662,487 M550,487 L606,547 M606,547 L662,487" stroke="#868686" stroke-width="16" fill="none" stroke-linecap="round" opacity="1"/>
<path d="M214,360 L270,427 M270,427 L326,360 M214,487 L270,427 M270,427 L326,487 M214,487 L270,547 M270,547 L326,487 M326,360 L382,427 M382,427 L438,360 M326,487 L382,427 M382,427 L438,487 M326,487 L382,547 M382,547 L438,487 M438,360 L494,427 M494,427 L550,360 M438,487 L494,427 M494,427 L550,487 M438,487 L494,547 M494,547 L550,487 M550,360 L606,427 M606,427 L662,360 M550,487 L606,427 M606,427 L662,487 M550,487 L606,547 M606,547 L662,487" stroke="#9a9a9a" stroke-width="4" fill="none" stroke-linecap="round" opacity="1"/>
</g>
<rect x="432.7" y="443.7" width="129.8" height="96.8" fill="#0b0b0b"/>

<g clip-path="url(#ins1)"><rect x="435" y="447" width="128" height="94" fill="#505050"/><path d="M468,447 L556,447 C550,470 540,490 530,510 C525,525 515,535 503,534 C490,532 480,522 470,505 C460,490 452,478 453,472 C455,462 462,455 468,447 Z" fill="#7a7a7a"/><path d="M458,470 C465,465 478,468 488,478 C500,490 510,510 515,528 C512,533 505,533 500,530 C490,520 475,500 465,485 C459,477 456,473 458,470 Z" fill="#262626" stroke="#8a8a8a" stroke-width="1.2"/><path d="M468,447 C462,455 455,462 453,472 C455,480 460,487 464,493" fill="none" stroke="#e6e6e6" stroke-width="1.6"/></g>
<text x="318.5" y="513.4" font-size="27.2" style="fill:#fff">5 μm</text>
<rect x="315" y="524" width="66" height="4.4" fill="#f4f4f4"/>
<text x="418.5" y="523.4" font-size="26.5" style="fill:#fff">500 nm</text>
<rect x="446" y="532.6" width="28" height="2.6" fill="#f4f4f4"/>
<rect x="562.5" y="304.7" width="244.5" height="235.8" fill="#121212"/>
<rect x="562.5" y="304.7" width="244.5" height="235.8" fill="#fff" filter="url(#noiseT)" opacity="0.22"/>
<g filter="url(#blur1)"><ellipse cx="643.4" cy="342.7" rx="2.4" ry="1.49" transform="rotate(-32 643.4 342.7)" fill="#fff" opacity="0.73"/><ellipse cx="705.3" cy="517.2" rx="1.0" ry="0.61" transform="rotate(-34 705.3 517.2)" fill="#fff" opacity="0.28"/><ellipse cx="587.7" cy="405.6" rx="2.0" ry="1.30" transform="rotate(10 587.7 405.6)" fill="#fff" opacity="0.35"/><ellipse cx="792.5" cy="440.7" rx="1.6" ry="0.99" transform="rotate(5 792.5 440.7)" fill="#fff" opacity="0.34"/><ellipse cx="597.8" cy="404.4" rx="2.0" ry="1.29" transform="rotate(25 597.8 404.4)" fill="#fff" opacity="0.40"/><ellipse cx="718.7" cy="393.7" rx="2.0" ry="1.77" transform="rotate(10 718.7 393.7)" fill="#fff" opacity="0.57"/><ellipse cx="751.8" cy="415.1" rx="1.6" ry="1.19" transform="rotate(-26 751.8 415.1)" fill="#fff" opacity="0.36"/><ellipse cx="752.4" cy="326.8" rx="1.3" ry="1.05" transform="rotate(18 752.4 326.8)" fill="#fff" opacity="0.77"/><ellipse cx="594.2" cy="404.2" rx="1.3" ry="0.86" transform="rotate(-37 594.2 404.2)" fill="#fff" opacity="0.52"/><ellipse cx="725.7" cy="483.9" rx="2.0" ry="1.83" transform="rotate(-13 725.7 483.9)" fill="#fff" opacity="0.73"/><ellipse cx="649.7" cy="422.2" rx="1.6" ry="1.00" transform="rotate(-18 649.7 422.2)" fill="#fff" opacity="0.26"/><ellipse cx="732.6" cy="322.9" rx="2.4" ry="2.11" transform="rotate(39 732.6 322.9)" fill="#fff" opacity="0.62"/><ellipse cx="762.4" cy="373.5" rx="1.6" ry="1.53" transform="rotate(35 762.4 373.5)" fill="#fff" opacity="0.43"/><ellipse cx="684.0" cy="358.2" rx="1.3" ry="0.85" transform="rotate(-9 684.0 358.2)" fill="#fff" opacity="0.36"/><ellipse cx="774.3" cy="326.5" rx="1.6" ry="1.22" transform="rotate(-29 774.3 326.5)" fill="#fff" opacity="0.38"/><ellipse cx="734.8" cy="534.9" rx="2.4" ry="2.29" transform="rotate(-28 734.8 534.9)" fill="#fff" opacity="0.82"/><ellipse cx="608.1" cy="361.4" rx="1.0" ry="0.60" transform="rotate(-25 608.1 361.4)" fill="#fff" opacity="0.40"/><ellipse cx="633.4" cy="341.5" rx="2.0" ry="1.50" transform="rotate(36 633.4 341.5)" fill="#fff" opacity="0.57"/><ellipse cx="731.0" cy="426.6" rx="2.0" ry="1.72" transform="rotate(-3 731.0 426.6)" fill="#fff" opacity="0.68"/><ellipse cx="774.2" cy="526.9" rx="2.4" ry="2.21" transform="rotate(-8 774.2 526.9)" fill="#fff" opacity="0.46"/><ellipse cx="580.9" cy="323.5" rx="1.0" ry="0.78" transform="rotate(8 580.9 323.5)" fill="#fff" opacity="0.18"/><ellipse cx="694.3" cy="526.3" rx="2.0" ry="1.22" transform="rotate(9 694.3 526.3)" fill="#fff" opacity="0.77"/><ellipse cx="601.5" cy="366.0" rx="1.3" ry="1.09" transform="rotate(-31 601.5 366.0)" fill="#fff" opacity="0.51"/><ellipse cx="680.8" cy="379.7" rx="1.0" ry="0.64" transform="rotate(-19 680.8 379.7)" fill="#fff" opacity="0.25"/><ellipse cx="764.1" cy="345.1" rx="0.8" ry="0.55" transform="rotate(-11 764.1 345.1)" fill="#fff" opacity="0.44"/><ellipse cx="730.9" cy="518.3" rx="2.0" ry="1.44" transform="rotate(-33 730.9 518.3)" fill="#fff" opacity="0.62"/><ellipse cx="768.1" cy="427.2" rx="1.0" ry="0.74" transform="rotate(3 768.1 427.2)" fill="#fff" opacity="0.22"/><ellipse cx="712.6" cy="489.3" rx="1.0" ry="0.92" transform="rotate(19 712.6 489.3)" fill="#fff" opacity="0.40"/><ellipse cx="620.2" cy="427.1" rx="1.3" ry="1.16" transform="rotate(23 620.2 427.1)" fill="#fff" opacity="0.84"/><ellipse cx="678.9" cy="352.5" rx="2.0" ry="1.97" transform="rotate(35 678.9 352.5)" fill="#fff" opacity="0.49"/><ellipse cx="802.1" cy="527.7" rx="1.3" ry="0.82" transform="rotate(-2 802.1 527.7)" fill="#fff" opacity="0.27"/><ellipse cx="646.7" cy="419.0" rx="2.0" ry="1.87" transform="rotate(12 646.7 419.0)" fill="#fff" opacity="0.51"/><ellipse cx="757.1" cy="327.5" rx="2.4" ry="1.56" transform="rotate(17 757.1 327.5)" fill="#fff" opacity="0.45"/><ellipse cx="738.5" cy="414.5" rx="2.4" ry="2.35" transform="rotate(-26 738.5 414.5)" fill="#fff" opacity="0.67"/><ellipse cx="596.4" cy="342.8" rx="1.6" ry="1.48" transform="rotate(26 596.4 342.8)" fill="#fff" opacity="0.30"/><ellipse cx="800.3" cy="459.2" rx="1.3" ry="0.86" transform="rotate(-38 800.3 459.2)" fill="#fff" opacity="0.56"/><ellipse cx="757.0" cy="475.1" rx="0.8" ry="0.65" transform="rotate(-5 757.0 475.1)" fill="#fff" opacity="0.43"/><ellipse cx="774.3" cy="498.0" rx="1.0" ry="0.61" transform="rotate(0 774.3 498.0)" fill="#fff" opacity="0.21"/><ellipse cx="748.5" cy="383.0" rx="2.0" ry="1.54" transform="rotate(33 748.5 383.0)" fill="#fff" opacity="0.29"/><ellipse cx="650.6" cy="413.4" rx="2.0" ry="1.85" transform="rotate(26 650.6 413.4)" fill="#fff" opacity="0.54"/><ellipse cx="775.9" cy="338.1" rx="1.0" ry="0.81" transform="rotate(-5 775.9 338.1)" fill="#fff" opacity="0.16"/><ellipse cx="609.8" cy="308.9" rx="1.0" ry="0.67" transform="rotate(18 609.8 308.9)" fill="#fff" opacity="0.29"/><ellipse cx="699.0" cy="383.0" rx="2.0" ry="1.62" transform="rotate(22 699.0 383.0)" fill="#fff" opacity="0.51"/><ellipse cx="777.1" cy="321.1" rx="1.0" ry="0.71" transform="rotate(1 777.1 321.1)" fill="#fff" opacity="0.38"/><ellipse cx="700.3" cy="482.8" rx="0.8" ry="0.62" transform="rotate(0 700.3 482.8)" fill="#fff" opacity="0.33"/><ellipse cx="733.1" cy="509.6" rx="1.3" ry="1.26" transform="rotate(-24 733.1 509.6)" fill="#fff" opacity="0.78"/><ellipse cx="673.0" cy="403.8" rx="1.6" ry="1.24" transform="rotate(-21 673.0 403.8)" fill="#fff" opacity="0.25"/><ellipse cx="753.4" cy="514.3" rx="1.0" ry="0.98" transform="rotate(-11 753.4 514.3)" fill="#fff" opacity="0.34"/><ellipse cx="626.5" cy="339.6" rx="1.6" ry="1.10" transform="rotate(-8 626.5 339.6)" fill="#fff" opacity="0.82"/><ellipse cx="765.0" cy="345.1" rx="1.6" ry="1.60" transform="rotate(-6 765.0 345.1)" fill="#fff" opacity="0.46"/><ellipse cx="651.2" cy="329.2" rx="1.3" ry="0.79" transform="rotate(-5 651.2 329.2)" fill="#fff" opacity="0.56"/><ellipse cx="570.3" cy="384.2" rx="2.0" ry="1.44" transform="rotate(-31 570.3 384.2)" fill="#fff" opacity="0.82"/><ellipse cx="785.5" cy="360.6" rx="0.8" ry="0.51" transform="rotate(32 785.5 360.6)" fill="#fff" opacity="0.23"/><ellipse cx="761.9" cy="503.4" rx="2.4" ry="2.23" transform="rotate(-28 761.9 503.4)" fill="#fff" opacity="0.37"/><ellipse cx="785.7" cy="439.2" rx="2.4" ry="1.75" transform="rotate(24 785.7 439.2)" fill="#fff" opacity="0.38"/><ellipse cx="630.3" cy="311.9" rx="0.8" ry="0.74" transform="rotate(28 630.3 311.9)" fill="#fff" opacity="0.18"/><ellipse cx="674.5" cy="386.0" rx="2.0" ry="1.53" transform="rotate(10 674.5 386.0)" fill="#fff" opacity="0.80"/><ellipse cx="790.2" cy="530.9" rx="1.3" ry="0.81" transform="rotate(-15 790.2 530.9)" fill="#fff" opacity="0.33"/><ellipse cx="635.3" cy="423.0" rx="1.0" ry="0.71" transform="rotate(40 635.3 423.0)" fill="#fff" opacity="0.39"/><ellipse cx="574.8" cy="312.2" rx="2.0" ry="1.64" transform="rotate(-2 574.8 312.2)" fill="#fff" opacity="0.32"/><ellipse cx="789.4" cy="332.4" rx="2.4" ry="1.85" transform="rotate(27 789.4 332.4)" fill="#fff" opacity="0.52"/><ellipse cx="659.9" cy="424.5" rx="2.4" ry="1.65" transform="rotate(-24 659.9 424.5)" fill="#fff" opacity="0.35"/><ellipse cx="776.8" cy="475.6" rx="1.0" ry="0.76" transform="rotate(-36 776.8 475.6)" fill="#fff" opacity="0.25"/><ellipse cx="597.0" cy="324.3" rx="2.4" ry="2.28" transform="rotate(-36 597.0 324.3)" fill="#fff" opacity="0.48"/><ellipse cx="725.0" cy="395.6" rx="2.0" ry="1.74" transform="rotate(-21 725.0 395.6)" fill="#fff" opacity="0.38"/><ellipse cx="636.0" cy="413.7" rx="1.0" ry="0.71" transform="rotate(-11 636.0 413.7)" fill="#fff" opacity="0.15"/><ellipse cx="643.3" cy="315.9" rx="1.3" ry="0.89" transform="rotate(-13 643.3 315.9)" fill="#fff" opacity="0.32"/><ellipse cx="586.0" cy="372.2" rx="2.4" ry="1.63" transform="rotate(-40 586.0 372.2)" fill="#fff" opacity="0.53"/><ellipse cx="629.1" cy="328.6" rx="1.6" ry="1.34" transform="rotate(-16 629.1 328.6)" fill="#fff" opacity="0.46"/><ellipse cx="716.5" cy="327.4" rx="2.0" ry="1.88" transform="rotate(31 716.5 327.4)" fill="#fff" opacity="0.30"/><ellipse cx="753.4" cy="445.2" rx="1.3" ry="1.15" transform="rotate(-17 753.4 445.2)" fill="#fff" opacity="0.52"/><ellipse cx="713.9" cy="341.3" rx="2.4" ry="2.30" transform="rotate(19 713.9 341.3)" fill="#fff" opacity="0.61"/><ellipse cx="760.1" cy="340.0" rx="2.0" ry="1.80" transform="rotate(25 760.1 340.0)" fill="#fff" opacity="0.57"/><ellipse cx="756.7" cy="471.6" rx="2.4" ry="2.06" transform="rotate(-37 756.7 471.6)" fill="#fff" opacity="0.26"/><ellipse cx="718.3" cy="528.7" rx="1.6" ry="1.49" transform="rotate(10 718.3 528.7)" fill="#fff" opacity="0.56"/><ellipse cx="715.7" cy="464.6" rx="1.6" ry="1.13" transform="rotate(-34 715.7 464.6)" fill="#fff" opacity="0.50"/><ellipse cx="788.9" cy="514.5" rx="0.8" ry="0.69" transform="rotate(19 788.9 514.5)" fill="#fff" opacity="0.17"/><ellipse cx="626.3" cy="325.1" rx="1.3" ry="0.90" transform="rotate(-22 626.3 325.1)" fill="#fff" opacity="0.69"/><ellipse cx="721.3" cy="413.9" rx="1.6" ry="1.01" transform="rotate(-17 721.3 413.9)" fill="#fff" opacity="0.79"/><ellipse cx="731.6" cy="450.9" rx="1.0" ry="0.60" transform="rotate(-18 731.6 450.9)" fill="#fff" opacity="0.17"/><ellipse cx="726.6" cy="467.2" rx="2.4" ry="1.91" transform="rotate(-17 726.6 467.2)" fill="#fff" opacity="0.66"/><ellipse cx="803.4" cy="434.3" rx="1.3" ry="1.29" transform="rotate(-39 803.4 434.3)" fill="#fff" opacity="0.81"/></g>
<rect x="562.3" y="432.1" width="127.7" height="108.4" fill="url(#diff)"/>
<path d="M607.5,488 C618,486 632,475 648,473.5 C658,473.5 662,478 668,479.5 L690,479.5 L690,494.5 L668,494.5 C662,496 656,499.5 648,499.5 C634,499 620,491 607.5,488 Z" fill="#050505"/>
<text x="717" y="515.3" font-size="27.2" style="fill:#fff">20 nm</text>
<rect x="741.6" y="522.5" width="31.6" height="4.5" fill="#f4f4f4"/>
<text x="5" y="38" font-size="40">(a)</text>
<defs>
<linearGradient id="plate" x1="0" y1="0.8" x2="1" y2="0.2">
 <stop offset="0.02" stop-color="#ffffff"/><stop offset="0.5" stop-color="#bcbcbc"/><stop offset="0.97" stop-color="#7a7a7a"/>
</linearGradient>
<linearGradient id="precur" x1="0" y1="0" x2="1" y2="0">
 <stop offset="0" stop-color="#c9d8f2"/><stop offset="0.5" stop-color="#8fa8dc"/><stop offset="1" stop-color="#4f70c4"/>
</linearGradient>
<linearGradient id="xlink" x1="0" y1="0" x2="1" y2="0">
 <stop offset="0" stop-color="#5687d2"/><stop offset="0.45" stop-color="#3450a6"/><stop offset="0.8" stop-color="#26307e"/><stop offset="1" stop-color="#1e165a"/>
</linearGradient>
<linearGradient id="cell" x1="0" y1="0" x2="0" y2="1">
 <stop offset="0" stop-color="#b8442a"/><stop offset="0.55" stop-color="#d9864a"/><stop offset="1" stop-color="#ecc070"/>
</linearGradient>
<linearGradient id="bigcell" x1="0.3" y1="0" x2="0.2" y2="1">
 <stop offset="0" stop-color="#b03a28"/><stop offset="0.35" stop-color="#c8703e"/><stop offset="0.8" stop-color="#d49a58"/><stop offset="1" stop-color="#e0b870"/>
</linearGradient>
<linearGradient id="cyl" x1="0" y1="0" x2="1" y2="0">
 <stop offset="0" stop-color="#2e3a96"/><stop offset="0.3" stop-color="#5d66b8"/><stop offset="0.5" stop-color="#f0f0ff"/><stop offset="0.62" stop-color="#8d92cc"/><stop offset="1" stop-color="#2e3a96"/>
</linearGradient>
<linearGradient id="cone" x1="0" y1="0" x2="1" y2="0">
 <stop offset="0" stop-color="#d6a85a"/><stop offset="0.35" stop-color="#ecd3a0"/><stop offset="0.5" stop-color="#faf3e4"/><stop offset="0.62" stop-color="#ecd6a6"/><stop offset="1" stop-color="#c9984c"/>
</linearGradient>
<marker id="axh" markerWidth="6" markerHeight="6" refX="3" refY="3" orient="auto" markerUnits="userSpaceOnUse" viewBox="0 0 6 6"><path d="M0,0 L6,3 L0,6 z" fill="#3e4bab"/></marker>
</defs>
<polygon points="846,180 911.6,74.2 1115.2,74.2 1049.6,180" fill="url(#plate)" stroke="#555" stroke-width="1.6" stroke-linejoin="round"/>
<path d="M903.3,151.1 A71,58 0 0 1 1045.3,151.1 Z" fill="url(#precur)" stroke="#222" stroke-width="1.5"/>
<path d="M1122.4,116.0 L1157.2,116.0 L1157.2,111.6 L1178.2,119.6 L1157.2,127.6 L1157.2,123.19999999999999 L1122.4,123.19999999999999 Z" fill="#000"/>
<polygon points="1177.6,179.5 1243.6999999999998,73.8 1447.8999999999999,73.8 1381.8,179.5" fill="url(#plate)" stroke="#555" stroke-width="1.6" stroke-linejoin="round"/>
<path d="M1235.3,150.4 A70.7,58.3 0 0 1 1376.7,150.4 Z" fill="url(#precur)" stroke="#222" stroke-width="1.5"/>
<circle cx="1307" cy="125.2" r="12.6" fill="url(#cell)"/>
<path d="M1466.9,114.7 L1502.2,114.7 L1502.2,110.3 L1523.2,118.3 L1502.2,126.3 L1502.2,121.89999999999999 L1466.9,121.89999999999999 Z" fill="#000"/>
<polygon points="1532.3,179.8 1599.0,74.7 1803.7,74.7 1737.0,179.8" fill="url(#plate)" stroke="#555" stroke-width="1.6" stroke-linejoin="round"/>
<path d="M1590.4,150.6 A70.8,57.5 0 0 1 1732.0,150.6 Z" fill="url(#xlink)" stroke="#222" stroke-width="1.5"/>
<circle cx="1662.3" cy="126" r="12.8" fill="url(#cell)"/>
<path d="M845.8,318.59999999999997 L879.9,318.59999999999997 L879.9,314.2 L900.9,322.2 L879.9,330.2 L879.9,325.8 L845.8,325.8 Z" fill="#000"/>
<polygon points="893.3,378.4 959.9,272.3 1164.2,272.3 1097.6,378.4" fill="url(#plate)" stroke="#555" stroke-width="1.6" stroke-linejoin="round"/>
<path d="M958.1999999999999,344.7 A70.4,58.3 0 0 1 1099.0,344.7 Z" fill="#8cb83b" stroke="#222" stroke-width="1.5"/>
<circle cx="1029.5" cy="318.8" r="12.5" fill="url(#cell)"/>
<path d="M1162.4,318.59999999999997 L1197,318.59999999999997 L1197,314.2 L1218,322.2 L1197,330.2 L1197,325.8 L1162.4,325.8 Z" fill="#000"/>
<polygon points="1211.8,379.6 1277.3999999999999,273 1481.9999999999998,273 1416.3999999999999,379.6" fill="url(#plate)" stroke="#555" stroke-width="1.6" stroke-linejoin="round"/>
<clipPath id="sc5"><path d="M1269.5,350 A70.6,57.8 0 0 1 1410.8,350 Z"/></clipPath>
<path d="M1269.5,350 A70.65,57.8 0 0 1 1410.8000000000002,350 Z" fill="url(#xlink)" stroke="#222" stroke-width="1.5"/>
<rect x="1349.5" y="318.2" width="70" height="14.5" fill="#8cb83b" clip-path="url(#sc5)"/>
<path d="M1269.5,350 A70.65,57.8 0 0 1 1410.8,350 Z" fill="none" stroke="#222" stroke-width="1.5"/>
<circle cx="1340.4" cy="325.7" r="12.6" fill="url(#cell)"/>
<path d="M1339,386 L1396.4,386 L1396.4,431 A28.7,6.5 0 0 1 1339,431 Z" fill="url(#cyl)" stroke="#222" stroke-width="1.4"/>
<path d="M1367.7,329.5 L1339,381 A28.7,6 0 0 0 1396.4,381 Z" fill="url(#cone)" stroke="#555" stroke-width="1"/>
<ellipse cx="1367.7" cy="383.5" rx="28.7" ry="5" fill="#e6d2a6" stroke="#222" stroke-width="1.4"/>
<g stroke="#3e4bab" stroke-width="2.4" fill="none"><line x1="1438.1" y1="422" x2="1438.1" y2="378" marker-end="url(#axh)"/><line x1="1438.1" y1="422" x2="1483" y2="422" marker-end="url(#axh)"/><line x1="1438.1" y1="422" x2="1472" y2="395" marker-end="url(#axh)"/></g>
<text x="1420.7" y="403.4" font-size="23.5" text-anchor="middle">z</text>
<text x="1462.9" y="387" font-size="23.5" text-anchor="middle">y</text>
<text x="1471.5" y="445" font-size="23.5" text-anchor="middle">x</text>
<text x="1364.4" y="470.8" font-size="21.9" text-anchor="middle">Two-photon laser</text>
<path d="M1487,316.09999999999997 L1521.1,316.09999999999997 L1521.1,311.7 L1542.1,319.7 L1521.1,327.7 L1521.1,323.3 L1487,323.3 Z" fill="#000"/>
<polygon points="1538.1,379.9 1605.3,273.6 1809.8,273.6 1742.6,379.9" fill="url(#plate)" stroke="#555" stroke-width="1.6" stroke-linejoin="round"/>
<clipPath id="sc6"><path d="M1595.9,351.2 A70.85,58.5 0 0 1 1737.6,351.2 Z"/></clipPath>
<path d="M1595.9,351.2 A70.85,58.5 0 0 1 1737.6,351.2 Z" fill="url(#xlink)" stroke="#222" stroke-width="1.5"/>
<rect x="1676" y="319.1" width="60" height="13.5" fill="#5a5a1a" clip-path="url(#sc6)"/>
<ellipse cx="1682.0" cy="322.5" rx="3.2" ry="2.2" fill="#d98a3a" stroke="#111" stroke-width="0.8" clip-path="url(#sc6)"/>
<ellipse cx="1685.0" cy="329.0" rx="3.2" ry="2.2" fill="#d98a3a" stroke="#111" stroke-width="0.8" clip-path="url(#sc6)"/>
<ellipse cx="1689.4" cy="322.5" rx="3.2" ry="2.2" fill="#d98a3a" stroke="#111" stroke-width="0.8" clip-path="url(#sc6)"/>
<ellipse cx="1692.4" cy="329.0" rx="3.2" ry="2.2" fill="#d98a3a" stroke="#111" stroke-width="0.8" clip-path="url(#sc6)"/>
<ellipse cx="1696.8" cy="322.5" rx="3.2" ry="2.2" fill="#d98a3a" stroke="#111" stroke-width="0.8" clip-path="url(#sc6)"/>
<ellipse cx="1699.8" cy="329.0" rx="3.2" ry="2.2" fill="#d98a3a" stroke="#111" stroke-width="0.8" clip-path="url(#sc6)"/>
<ellipse cx="1704.2" cy="322.5" rx="3.2" ry="2.2" fill="#d98a3a" stroke="#111" stroke-width="0.8" clip-path="url(#sc6)"/>
<ellipse cx="1707.2" cy="329.0" rx="3.2" ry="2.2" fill="#d98a3a" stroke="#111" stroke-width="0.8" clip-path="url(#sc6)"/>
<ellipse cx="1711.6" cy="322.5" rx="3.2" ry="2.2" fill="#d98a3a" stroke="#111" stroke-width="0.8" clip-path="url(#sc6)"/>
<ellipse cx="1714.6" cy="329.0" rx="3.2" ry="2.2" fill="#d98a3a" stroke="#111" stroke-width="0.8" clip-path="url(#sc6)"/>
<ellipse cx="1719.0" cy="322.5" rx="3.2" ry="2.2" fill="#d98a3a" stroke="#111" stroke-width="0.8" clip-path="url(#sc6)"/>
<ellipse cx="1722.0" cy="329.0" rx="3.2" ry="2.2" fill="#d98a3a" stroke="#111" stroke-width="0.8" clip-path="url(#sc6)"/>
<ellipse cx="1726.4" cy="322.5" rx="3.2" ry="2.2" fill="#d98a3a" stroke="#111" stroke-width="0.8" clip-path="url(#sc6)"/>
<ellipse cx="1729.4" cy="329.0" rx="3.2" ry="2.2" fill="#d98a3a" stroke="#111" stroke-width="0.8" clip-path="url(#sc6)"/>
<path d="M1595.9,351.2 A70.85,58.5 0 0 1 1737.6,351.2 Z" fill="none" stroke="#222" stroke-width="1.5"/>
<circle cx="1667" cy="325.7" r="12" fill="url(#cell)"/>
<line x1="1654.4" y1="331.2" x2="1583.2" y2="400.3" stroke="#111" stroke-width="2.2"/>
<line x1="1733.6" y1="329.2" x2="1779.7" y2="416" stroke="#111" stroke-width="2.2"/>
<polygon points="1635.3,416 1780.7,416 1799.7,454 1635.3,454" fill="#8cc23c"/>
<path d="M1638.3,422.9 C1643.5,417.0 1664.5,417.5 1673.3,420.7 C1668.0,430.4 1645.3,430.9 1638.3,422.9 Z" transform="rotate(1.8 1655.8 424.0)" fill="#e08c3c" stroke="#2a2a2a" stroke-width="1.3"/>
<ellipse cx="1657.7" cy="422.5" rx="3.6" ry="2.34" fill="#5a0e78" stroke="#2a0a30" stroke-width="0.6"/>
<path d="M1672.3,422.9 C1677.4,417.0 1697.9,417.5 1706.4,420.7 C1701.3,430.4 1679.1,430.9 1672.3,422.9 Z" transform="rotate(2.4 1689.3 424.0)" fill="#e08c3c" stroke="#2a2a2a" stroke-width="1.3"/>
<ellipse cx="1694.7" cy="424" rx="4.6" ry="2.99" fill="#5a0e78" stroke="#2a0a30" stroke-width="0.6"/>
<path d="M1707.8,421.3 C1712.9,413.6 1733.4,414.3 1741.9,418.5 C1736.8,431.2 1714.6,431.9 1707.8,421.3 Z" transform="rotate(-3.0 1724.8 422.8)" fill="#e08c3c" stroke="#2a2a2a" stroke-width="1.3"/>
<ellipse cx="1722.9" cy="425" rx="3.8" ry="2.47" fill="#5a0e78" stroke="#2a0a30" stroke-width="0.6"/>
<path d="M1736.0,424.3 C1742.6,417.8 1768.8,418.4 1779.8,421.9 C1773.2,432.5 1744.8,433.1 1736.0,424.3 Z" transform="rotate(-2.4 1757.9 425.5)" fill="#e08c3c" stroke="#2a2a2a" stroke-width="1.3"/>
<ellipse cx="1759.9" cy="427.4" rx="3.8" ry="2.47" fill="#5a0e78" stroke="#2a0a30" stroke-width="0.6"/>
<path d="M1640.2,434.0 C1646.0,430.3 1669.4,430.6 1679.1,432.6 C1673.3,438.7 1648.0,439.0 1640.2,434.0 Z" transform="rotate(0.0 1659.7 434.6)" fill="#e08c3c" stroke="#2a2a2a" stroke-width="1.3"/>
<ellipse cx="1660.6" cy="434.2" rx="3.6" ry="2.34" fill="#5a0e78" stroke="#2a0a30" stroke-width="0.6"/>
<path d="M1680.6,434.6 C1685.7,430.1 1706.1,430.5 1714.6,432.9 C1709.5,440.3 1687.4,440.7 1680.6,434.6 Z" transform="rotate(1.8 1697.6 435.4)" fill="#e08c3c" stroke="#2a2a2a" stroke-width="1.3"/>
<ellipse cx="1699" cy="434.7" rx="3.2" ry="2.08" fill="#5a0e78" stroke="#2a0a30" stroke-width="0.6"/>
<path d="M1715.6,435.2 C1720.7,430.8 1741.1,431.2 1749.6,433.6 C1744.5,440.8 1722.4,441.2 1715.6,435.2 Z" transform="rotate(1.2 1732.6 436.0)" fill="#e08c3c" stroke="#2a2a2a" stroke-width="1.3"/>
<ellipse cx="1735.5" cy="436.6" rx="3.6" ry="2.34" fill="#5a0e78" stroke="#2a0a30" stroke-width="0.6"/>
<path d="M1751.6,435.2 C1757.6,430.8 1781.5,431.2 1791.5,433.6 C1785.5,440.8 1759.6,441.2 1751.6,435.2 Z" transform="rotate(1.2 1771.5 436.0)" fill="#e08c3c" stroke="#2a2a2a" stroke-width="1.3"/>
<ellipse cx="1772" cy="436.1" rx="3.8" ry="2.47" fill="#5a0e78" stroke="#2a0a30" stroke-width="0.6"/>
<path d="M1639.2,444.8 C1644.2,437.5 1664.4,438.2 1672.8,442.1 C1667.8,454.0 1645.9,454.7 1639.2,444.8 Z" transform="rotate(3.0 1656.0 446.1)" fill="#e08c3c" stroke="#2a2a2a" stroke-width="1.3"/>
<ellipse cx="1654.8" cy="443.9" rx="3.4" ry="2.21" fill="#5a0e78" stroke="#2a0a30" stroke-width="0.6"/>
<path d="M1672.3,445.6 C1677.5,439.3 1698.2,439.9 1706.8,443.3 C1701.6,453.6 1679.2,454.2 1672.3,445.6 Z" transform="rotate(3.0 1689.5 446.8)" fill="#e08c3c" stroke="#2a2a2a" stroke-width="1.3"/>
<ellipse cx="1694.2" cy="446.8" rx="4.4" ry="2.86" fill="#5a0e78" stroke="#2a0a30" stroke-width="0.6"/>
<path d="M1707.8,445.9 C1713.3,439.9 1735.2,440.4 1744.3,443.7 C1738.8,453.6 1715.1,454.1 1707.8,445.9 Z" transform="rotate(2.4 1726.0 447.0)" fill="#e08c3c" stroke="#2a2a2a" stroke-width="1.3"/>
<ellipse cx="1726.8" cy="445.9" rx="3.6" ry="2.34" fill="#5a0e78" stroke="#2a0a30" stroke-width="0.6"/>
<path d="M1741.9,445.3 C1748.6,438.7 1775.4,439.3 1786.6,442.9 C1779.9,453.7 1750.8,454.3 1741.9,445.3 Z" transform="rotate(2.4 1764.2 446.5)" fill="#e08c3c" stroke="#2a2a2a" stroke-width="1.3"/>
<ellipse cx="1765.2" cy="445.9" rx="4" ry="2.60" fill="#5a0e78" stroke="#2a0a30" stroke-width="0.6"/>
<circle cx="1600.9" cy="434.8" r="38.1" fill="url(#bigcell)"/>
<text x="1012.5" y="30.9" font-size="21.9" text-anchor="middle">Crosslinkable hydrogel</text>
<text x="1012.8" y="57" font-size="21.9" text-anchor="middle">precursor solution</text>
<text x="1333.6" y="30.9" font-size="21.9" text-anchor="middle">Fibroblast cluster</text>
<text x="1333.6" y="57" font-size="21.9" text-anchor="middle">in fibrin gel</text>
<text x="1684.5" y="30.9" font-size="21.9" text-anchor="middle">Pre-crosslinked</text>
<text x="1684.5" y="57" font-size="21.9" text-anchor="middle">hydrogel</text>
<text x="1511.2" y="96.4" font-size="21.9" text-anchor="middle">UV expose</text>
<text x="1049.5" y="233.1" font-size="21.9" text-anchor="middle">Soaking with</text>
<text x="1049.5" y="259" font-size="21.9" text-anchor="middle">FITC-RGDS-PEG-acrylate</text>
<text x="1368" y="233.1" font-size="21.9" text-anchor="middle">Laser scanning lithography</text>
<text x="1368" y="259" font-size="21.9" text-anchor="middle">and washing</text>
<text x="1683" y="233.3" font-size="21.9" text-anchor="middle">3D cell migration along</text>
<text x="1683" y="259.5" font-size="21.9" text-anchor="middle">RGDS-patterned regions</text>
<rect x="860.3" y="418.7" width="30.7" height="32" fill="#7ba2dc" stroke="#555" stroke-width="1.6"/>
<rect x="860.3" y="464.2" width="30.7" height="32" fill="#2b4496" stroke="#555" stroke-width="1.6"/>
<rect x="860.3" y="507.8" width="30.7" height="32" fill="#8ab83a" stroke="#555" stroke-width="1.6"/>
<text x="902" y="444" font-size="26.3" text-anchor="start">Precursor solution</text>
<text x="901" y="489" font-size="26.2" text-anchor="start">Crosslinked hydrogel</text>
<text x="902" y="533.9" font-size="26.2" text-anchor="start">FITC-RGDS-PEG-acrylate</text>
<text x="838" y="38" font-size="40" text-anchor="start">(b)</text>
<rect x="159.8" y="752.4" width="50.2" height="395.3" fill="#08f6f6" stroke="#262626" stroke-width="1.8"/>
<rect x="210.0" y="708.5" width="50.2" height="439.2" fill="#0606f0" stroke="#262626" stroke-width="1.8"/>
<line x1="184.9" y1="800.0" x2="184.9" y2="736.0" stroke="#444" stroke-width="1.5"/>
<line x1="179.9" y1="800.0" x2="189.9" y2="800.0" stroke="#444" stroke-width="1.8"/>
<line x1="179.9" y1="736.0" x2="189.9" y2="736.0" stroke="#444" stroke-width="1.8"/>
<line x1="235.1" y1="779.0" x2="235.1" y2="646.3" stroke="#444" stroke-width="1.5"/>
<line x1="230.1" y1="779.0" x2="240.1" y2="779.0" stroke="#444" stroke-width="1.8"/>
<line x1="230.1" y1="646.3" x2="240.1" y2="646.3" stroke="#444" stroke-width="1.8"/>
<rect x="284.6" y="944.6" width="50.2" height="203.1" fill="#08f6f6" stroke="#262626" stroke-width="1.8"/>
<rect x="334.8" y="727.7" width="50.2" height="420.0" fill="#0606f0" stroke="#262626" stroke-width="1.8"/>
<line x1="309.7" y1="949.1" x2="309.7" y2="940.0" stroke="#444" stroke-width="1.5"/>
<line x1="304.7" y1="949.1" x2="314.7" y2="949.1" stroke="#444" stroke-width="1.8"/>
<line x1="304.7" y1="940.0" x2="314.7" y2="940.0" stroke="#444" stroke-width="1.8"/>
<line x1="359.9" y1="759.7" x2="359.9" y2="667.3" stroke="#444" stroke-width="1.5"/>
<line x1="354.9" y1="759.7" x2="364.9" y2="759.7" stroke="#444" stroke-width="1.8"/>
<line x1="354.9" y1="667.3" x2="364.9" y2="667.3" stroke="#444" stroke-width="1.8"/>
<rect x="409.4" y="1032.4" width="50.2" height="115.3" fill="#08f6f6" stroke="#262626" stroke-width="1.8"/>
<rect x="459.6" y="800.9" width="50.2" height="346.8" fill="#0606f0" stroke="#262626" stroke-width="1.8"/>
<line x1="434.5" y1="1049.3" x2="434.5" y2="1017.2" stroke="#444" stroke-width="1.5"/>
<line x1="429.5" y1="1049.3" x2="439.5" y2="1049.3" stroke="#444" stroke-width="1.8"/>
<line x1="429.5" y1="1017.2" x2="439.5" y2="1017.2" stroke="#444" stroke-width="1.8"/>
<line x1="484.7" y1="887.8" x2="484.7" y2="727.7" stroke="#444" stroke-width="1.5"/>
<line x1="479.7" y1="887.8" x2="489.7" y2="887.8" stroke="#444" stroke-width="1.8"/>
<line x1="479.7" y1="727.7" x2="489.7" y2="727.7" stroke="#444" stroke-width="1.8"/>
<rect x="534.2" y="1041.6" width="50.2" height="106.1" fill="#08f6f6" stroke="#262626" stroke-width="1.8"/>
<rect x="584.4" y="823.8" width="50.2" height="323.9" fill="#0606f0" stroke="#262626" stroke-width="1.8"/>
<line x1="559.3" y1="1053.5" x2="559.3" y2="1031.5" stroke="#444" stroke-width="1.5"/>
<line x1="554.3" y1="1053.5" x2="564.3" y2="1053.5" stroke="#444" stroke-width="1.8"/>
<line x1="554.3" y1="1031.5" x2="564.3" y2="1031.5" stroke="#444" stroke-width="1.8"/>
<line x1="609.5" y1="843.0" x2="609.5" y2="803.7" stroke="#444" stroke-width="1.5"/>
<line x1="604.5" y1="843.0" x2="614.5" y2="843.0" stroke="#444" stroke-width="1.8"/>
<line x1="604.5" y1="803.7" x2="614.5" y2="803.7" stroke="#444" stroke-width="1.8"/>
<rect x="659.0" y="1080.9" width="50.2" height="66.8" fill="#08f6f6" stroke="#262626" stroke-width="1.8"/>
<rect x="709.2" y="890.6" width="50.2" height="257.1" fill="#0606f0" stroke="#262626" stroke-width="1.8"/>
<line x1="684.1" y1="1093.7" x2="684.1" y2="1057.1" stroke="#444" stroke-width="1.5"/>
<line x1="679.1" y1="1093.7" x2="689.1" y2="1093.7" stroke="#444" stroke-width="1.8"/>
<line x1="679.1" y1="1057.1" x2="689.1" y2="1057.1" stroke="#444" stroke-width="1.8"/>
<line x1="734.3" y1="902.9" x2="734.3" y2="854.9" stroke="#444" stroke-width="1.5"/>
<line x1="729.3" y1="902.9" x2="739.3" y2="902.9" stroke="#444" stroke-width="1.8"/>
<line x1="729.3" y1="854.9" x2="739.3" y2="854.9" stroke="#444" stroke-width="1.8"/>
<rect x="783.8" y="1088.2" width="50.2" height="59.5" fill="#08f6f6" stroke="#262626" stroke-width="1.8"/>
<rect x="834.0" y="970.2" width="50.2" height="177.5" fill="#0606f0" stroke="#262626" stroke-width="1.8"/>
<line x1="808.9" y1="1112.0" x2="808.9" y2="1070.8" stroke="#444" stroke-width="1.5"/>
<line x1="803.9" y1="1112.0" x2="813.9" y2="1112.0" stroke="#444" stroke-width="1.8"/>
<line x1="803.9" y1="1070.8" x2="813.9" y2="1070.8" stroke="#444" stroke-width="1.8"/>
<line x1="859.1" y1="995.8" x2="859.1" y2="952.8" stroke="#444" stroke-width="1.5"/>
<line x1="854.1" y1="995.8" x2="864.1" y2="995.8" stroke="#444" stroke-width="1.8"/>
<line x1="854.1" y1="952.8" x2="864.1" y2="952.8" stroke="#444" stroke-width="1.8"/>
<line x1="148" y1="598.7" x2="148" y2="1148.7" stroke="#2a2a2a" stroke-width="2.6"/>
<line x1="147" y1="1147.7" x2="898.6" y2="1147.7" stroke="#2a2a2a" stroke-width="2.6"/>
<line x1="135" y1="1147.7" x2="148" y2="1147.7" stroke="#2a2a2a" stroke-width="2.4"/>
<text x="130" y="1157.5" font-size="31" text-anchor="end">0</text>
<line x1="141" y1="1102.0" x2="148" y2="1102.0" stroke="#2a2a2a" stroke-width="2.2"/>
<line x1="135" y1="1056.2" x2="148" y2="1056.2" stroke="#2a2a2a" stroke-width="2.4"/>
<text x="130" y="1066.0" font-size="31" text-anchor="end">10</text>
<line x1="141" y1="1010.5" x2="148" y2="1010.5" stroke="#2a2a2a" stroke-width="2.2"/>
<line x1="135" y1="964.7" x2="148" y2="964.7" stroke="#2a2a2a" stroke-width="2.4"/>
<text x="130" y="974.5" font-size="31" text-anchor="end">20</text>
<line x1="141" y1="919.0" x2="148" y2="919.0" stroke="#2a2a2a" stroke-width="2.2"/>
<line x1="135" y1="873.2" x2="148" y2="873.2" stroke="#2a2a2a" stroke-width="2.4"/>
<text x="130" y="883.0" font-size="31" text-anchor="end">30</text>
<line x1="141" y1="827.5" x2="148" y2="827.5" stroke="#2a2a2a" stroke-width="2.2"/>
<line x1="135" y1="781.7" x2="148" y2="781.7" stroke="#2a2a2a" stroke-width="2.4"/>
<text x="130" y="791.5" font-size="31" text-anchor="end">40</text>
<line x1="141" y1="736.0" x2="148" y2="736.0" stroke="#2a2a2a" stroke-width="2.2"/>
<line x1="135" y1="690.2" x2="148" y2="690.2" stroke="#2a2a2a" stroke-width="2.4"/>
<text x="130" y="700.0" font-size="31" text-anchor="end">50</text>
<line x1="141" y1="644.5" x2="148" y2="644.5" stroke="#2a2a2a" stroke-width="2.2"/>
<line x1="135" y1="598.7" x2="148" y2="598.7" stroke="#2a2a2a" stroke-width="2.4"/>
<text x="130" y="608.5" font-size="31" text-anchor="end">60</text>
<line x1="210.0" y1="1147.7" x2="210.0" y2="1159.7" stroke="#2a2a2a" stroke-width="2.4"/>
<text x="210.5" y="1188.7" font-size="33" text-anchor="middle">1</text>
<line x1="334.8" y1="1147.7" x2="334.8" y2="1159.7" stroke="#2a2a2a" stroke-width="2.4"/>
<text x="335.3" y="1188.7" font-size="33" text-anchor="middle">2</text>
<line x1="459.6" y1="1147.7" x2="459.6" y2="1159.7" stroke="#2a2a2a" stroke-width="2.4"/>
<text x="460.1" y="1188.7" font-size="33" text-anchor="middle">3</text>
<line x1="584.4" y1="1147.7" x2="584.4" y2="1159.7" stroke="#2a2a2a" stroke-width="2.4"/>
<text x="584.9" y="1188.7" font-size="33" text-anchor="middle">4</text>
<line x1="709.2" y1="1147.7" x2="709.2" y2="1159.7" stroke="#2a2a2a" stroke-width="2.4"/>
<text x="709.7" y="1188.7" font-size="33" text-anchor="middle">5</text>
<line x1="834.0" y1="1147.7" x2="834.0" y2="1159.7" stroke="#2a2a2a" stroke-width="2.4"/>
<text x="834.5" y="1188.7" font-size="33" text-anchor="middle">6</text>
<line x1="147.6" y1="1147.7" x2="147.6" y2="1154.7" stroke="#2a2a2a" stroke-width="2.2"/>
<line x1="272.4" y1="1147.7" x2="272.4" y2="1154.7" stroke="#2a2a2a" stroke-width="2.2"/>
<line x1="397.2" y1="1147.7" x2="397.2" y2="1154.7" stroke="#2a2a2a" stroke-width="2.2"/>
<line x1="522.0" y1="1147.7" x2="522.0" y2="1154.7" stroke="#2a2a2a" stroke-width="2.2"/>
<line x1="646.8" y1="1147.7" x2="646.8" y2="1154.7" stroke="#2a2a2a" stroke-width="2.2"/>
<line x1="771.6" y1="1147.7" x2="771.6" y2="1154.7" stroke="#2a2a2a" stroke-width="2.2"/>
<line x1="896.4" y1="1147.7" x2="896.4" y2="1154.7" stroke="#2a2a2a" stroke-width="2.2"/>
<text x="525.0" y="1224.7" font-size="30.8" text-anchor="middle">Culture time/Days</text>
<text transform="translate(54.5,877.5) rotate(-90)" font-size="30.7" text-anchor="middle">Albumin concentration/</text>
<text transform="translate(87.5,877.5) rotate(-90)" font-size="30.4" text-anchor="middle">(ng/ml/10<tspan font-size="19" dy="-11">6</tspan><tspan dy="11"> cells/24 h)</tspan></text>
<text x="169" y="632" font-size="39">(i)</text>
<rect x="503.4" y="589.7" width="396.6" height="88.29999999999995" fill="#fff" stroke="#666" stroke-width="2"/>
<rect x="511.8" y="604.5" width="60.5" height="23.5" fill="#08f6f6" stroke="#333" stroke-width="2"/>
<text x="578.3" y="624.8" font-size="30.7">2D Monolayer</text>
<rect x="511.8" y="638" width="60.5" height="23.5" fill="#0606f0" stroke="#333" stroke-width="2"/>
<text x="578.3" y="658.3" font-size="30.7">3D Polymeric scaffold</text>
<path d="M302.5,718 L302.5,632.4 L360,632.4 L360,647.8" fill="none" stroke="#111" stroke-width="4" stroke-linecap="round"/>
<text x="332.8" y="630.9" font-size="30" text-anchor="middle">*</text>
<path d="M428,781 L428,694.2 L486.2,694.2 L486.2,711.3" fill="none" stroke="#111" stroke-width="4" stroke-linecap="round"/>
<text x="458.6" y="692.7" font-size="30" text-anchor="middle">*</text>
<path d="M552.5,854.3 L552.5,768.9 L610,768.9 L610,784.9" fill="none" stroke="#111" stroke-width="4" stroke-linecap="round"/>
<text x="582.8" y="767.4" font-size="30" text-anchor="middle">*</text>
<path d="M676.7,910.5 L676.7,825.6 L734.8,825.6 L734.8,841" fill="none" stroke="#111" stroke-width="4" stroke-linecap="round"/>
<text x="707.2" y="824.1" font-size="30" text-anchor="middle">*</text>
<path d="M803.2,1005.6 L803.2,920.6 L861,920.6 L861,936.4" fill="none" stroke="#111" stroke-width="4" stroke-linecap="round"/>
<text x="833.6" y="919.1" font-size="30" text-anchor="middle">*</text>
<rect x="1055.6" y="781.0" width="50.2" height="369.7" fill="#08f808" stroke="#262626" stroke-width="1.8"/>
<rect x="1105.8" y="759.8" width="50.2" height="390.9" fill="#0b7b80" stroke="#262626" stroke-width="1.8"/>
<line x1="1080.7" y1="820.6" x2="1080.7" y2="757.0" stroke="#444" stroke-width="1.5"/>
<line x1="1075.7" y1="820.6" x2="1085.7" y2="820.6" stroke="#444" stroke-width="1.8"/>
<line x1="1075.7" y1="757.0" x2="1085.7" y2="757.0" stroke="#444" stroke-width="1.8"/>
<line x1="1130.9" y1="797.5" x2="1130.9" y2="693.0" stroke="#444" stroke-width="1.5"/>
<line x1="1125.9" y1="797.5" x2="1135.9" y2="797.5" stroke="#444" stroke-width="1.8"/>
<line x1="1125.9" y1="693.0" x2="1135.9" y2="693.0" stroke="#444" stroke-width="1.8"/>
<rect x="1180.7" y="882.2" width="50.2" height="268.5" fill="#08f808" stroke="#262626" stroke-width="1.8"/>
<rect x="1230.9" y="827.3" width="50.2" height="323.4" fill="#0b7b80" stroke="#262626" stroke-width="1.8"/>
<line x1="1205.8" y1="910.9" x2="1205.8" y2="861.8" stroke="#444" stroke-width="1.5"/>
<line x1="1200.8" y1="910.9" x2="1210.8" y2="910.9" stroke="#444" stroke-width="1.8"/>
<line x1="1200.8" y1="861.8" x2="1210.8" y2="861.8" stroke="#444" stroke-width="1.8"/>
<line x1="1256.0" y1="862.6" x2="1256.0" y2="783.3" stroke="#444" stroke-width="1.5"/>
<line x1="1251.0" y1="862.6" x2="1261.0" y2="862.6" stroke="#444" stroke-width="1.8"/>
<line x1="1251.0" y1="783.3" x2="1261.0" y2="783.3" stroke="#444" stroke-width="1.8"/>
<rect x="1305.8" y="921.5" width="50.2" height="229.2" fill="#08f808" stroke="#262626" stroke-width="1.8"/>
<rect x="1356.0" y="912.8" width="50.2" height="237.9" fill="#0b7b80" stroke="#262626" stroke-width="1.8"/>
<line x1="1330.9" y1="942.7" x2="1330.9" y2="911.3" stroke="#444" stroke-width="1.5"/>
<line x1="1325.9" y1="942.7" x2="1335.9" y2="942.7" stroke="#444" stroke-width="1.8"/>
<line x1="1325.9" y1="911.3" x2="1335.9" y2="911.3" stroke="#444" stroke-width="1.8"/>
<line x1="1381.1" y1="954.5" x2="1381.1" y2="848.5" stroke="#444" stroke-width="1.5"/>
<line x1="1376.1" y1="954.5" x2="1386.1" y2="954.5" stroke="#444" stroke-width="1.8"/>
<line x1="1376.1" y1="848.5" x2="1386.1" y2="848.5" stroke="#444" stroke-width="1.8"/>
<rect x="1430.9" y="1043.2" width="50.2" height="107.5" fill="#08f808" stroke="#262626" stroke-width="1.8"/>
<rect x="1481.1" y="888.5" width="50.2" height="262.2" fill="#0b7b80" stroke="#262626" stroke-width="1.8"/>
<line x1="1456.0" y1="1060.0" x2="1456.0" y2="1029.0" stroke="#444" stroke-width="1.5"/>
<line x1="1451.0" y1="1060.0" x2="1461.0" y2="1060.0" stroke="#444" stroke-width="1.8"/>
<line x1="1451.0" y1="1029.0" x2="1461.0" y2="1029.0" stroke="#444" stroke-width="1.8"/>
<line x1="1506.2" y1="917.6" x2="1506.2" y2="870.5" stroke="#444" stroke-width="1.5"/>
<line x1="1501.2" y1="917.6" x2="1511.2" y2="917.6" stroke="#444" stroke-width="1.8"/>
<line x1="1501.2" y1="870.5" x2="1511.2" y2="870.5" stroke="#444" stroke-width="1.8"/>
<rect x="1556.0" y="1038.4" width="50.2" height="112.3" fill="#08f808" stroke="#262626" stroke-width="1.8"/>
<rect x="1606.2" y="886.9" width="50.2" height="263.8" fill="#0b7b80" stroke="#262626" stroke-width="1.8"/>
<line x1="1581.1" y1="1055.7" x2="1581.1" y2="1030.6" stroke="#444" stroke-width="1.5"/>
<line x1="1576.1" y1="1055.7" x2="1586.1" y2="1055.7" stroke="#444" stroke-width="1.8"/>
<line x1="1576.1" y1="1030.6" x2="1586.1" y2="1030.6" stroke="#444" stroke-width="1.8"/>
<line x1="1631.3" y1="923.8" x2="1631.3" y2="857.9" stroke="#444" stroke-width="1.5"/>
<line x1="1626.3" y1="923.8" x2="1636.3" y2="923.8" stroke="#444" stroke-width="1.8"/>
<line x1="1626.3" y1="857.9" x2="1636.3" y2="857.9" stroke="#444" stroke-width="1.8"/>
<rect x="1681.1" y="1069.8" width="50.2" height="80.9" fill="#08f808" stroke="#262626" stroke-width="1.8"/>
<rect x="1731.3" y="925.4" width="50.2" height="225.3" fill="#0b7b80" stroke="#262626" stroke-width="1.8"/>
<line x1="1706.2" y1="1084.4" x2="1706.2" y2="1048.7" stroke="#444" stroke-width="1.5"/>
<line x1="1701.2" y1="1084.4" x2="1711.2" y2="1084.4" stroke="#444" stroke-width="1.8"/>
<line x1="1701.2" y1="1048.7" x2="1711.2" y2="1048.7" stroke="#444" stroke-width="1.8"/>
<line x1="1756.4" y1="946.6" x2="1756.4" y2="889.3" stroke="#444" stroke-width="1.5"/>
<line x1="1751.4" y1="946.6" x2="1761.4" y2="946.6" stroke="#444" stroke-width="1.8"/>
<line x1="1751.4" y1="889.3" x2="1761.4" y2="889.3" stroke="#444" stroke-width="1.8"/>
<line x1="1043.5" y1="601.2" x2="1043.5" y2="1151.7" stroke="#2a2a2a" stroke-width="2.6"/>
<line x1="1042.5" y1="1150.7" x2="1795.2" y2="1150.7" stroke="#2a2a2a" stroke-width="2.6"/>
<line x1="1030.5" y1="1150.7" x2="1043.5" y2="1150.7" stroke="#2a2a2a" stroke-width="2.4"/>
<text x="1025.5" y="1160.5" font-size="31" text-anchor="end">0</text>
<line x1="1036.5" y1="1111.5" x2="1043.5" y2="1111.5" stroke="#2a2a2a" stroke-width="2.2"/>
<line x1="1030.5" y1="1072.2" x2="1043.5" y2="1072.2" stroke="#2a2a2a" stroke-width="2.4"/>
<text x="1025.5" y="1082.0" font-size="31" text-anchor="end">10</text>
<line x1="1036.5" y1="1033.0" x2="1043.5" y2="1033.0" stroke="#2a2a2a" stroke-width="2.2"/>
<line x1="1030.5" y1="993.7" x2="1043.5" y2="993.7" stroke="#2a2a2a" stroke-width="2.4"/>
<text x="1025.5" y="1003.5" font-size="31" text-anchor="end">20</text>
<line x1="1036.5" y1="954.5" x2="1043.5" y2="954.5" stroke="#2a2a2a" stroke-width="2.2"/>
<line x1="1030.5" y1="915.2" x2="1043.5" y2="915.2" stroke="#2a2a2a" stroke-width="2.4"/>
<text x="1025.5" y="925.0" font-size="31" text-anchor="end">30</text>
<line x1="1036.5" y1="876.0" x2="1043.5" y2="876.0" stroke="#2a2a2a" stroke-width="2.2"/>
<line x1="1030.5" y1="836.7" x2="1043.5" y2="836.7" stroke="#2a2a2a" stroke-width="2.4"/>
<text x="1025.5" y="846.5" font-size="31" text-anchor="end">40</text>
<line x1="1036.5" y1="797.5" x2="1043.5" y2="797.5" stroke="#2a2a2a" stroke-width="2.2"/>
<line x1="1030.5" y1="758.2" x2="1043.5" y2="758.2" stroke="#2a2a2a" stroke-width="2.4"/>
<text x="1025.5" y="768.0" font-size="31" text-anchor="end">50</text>
<line x1="1036.5" y1="719.0" x2="1043.5" y2="719.0" stroke="#2a2a2a" stroke-width="2.2"/>
<line x1="1030.5" y1="679.7" x2="1043.5" y2="679.7" stroke="#2a2a2a" stroke-width="2.4"/>
<text x="1025.5" y="689.5" font-size="31" text-anchor="end">60</text>
<line x1="1036.5" y1="640.5" x2="1043.5" y2="640.5" stroke="#2a2a2a" stroke-width="2.2"/>
<line x1="1030.5" y1="601.2" x2="1043.5" y2="601.2" stroke="#2a2a2a" stroke-width="2.4"/>
<text x="1025.5" y="611.0" font-size="31" text-anchor="end">70</text>
<line x1="1105.8" y1="1150.7" x2="1105.8" y2="1162.7" stroke="#2a2a2a" stroke-width="2.4"/>
<text x="1106.3" y="1191.7" font-size="33" text-anchor="middle">1</text>
<line x1="1230.9" y1="1150.7" x2="1230.9" y2="1162.7" stroke="#2a2a2a" stroke-width="2.4"/>
<text x="1231.4" y="1191.7" font-size="33" text-anchor="middle">2</text>
<line x1="1356.0" y1="1150.7" x2="1356.0" y2="1162.7" stroke="#2a2a2a" stroke-width="2.4"/>
<text x="1356.5" y="1191.7" font-size="33" text-anchor="middle">3</text>
<line x1="1481.1" y1="1150.7" x2="1481.1" y2="1162.7" stroke="#2a2a2a" stroke-width="2.4"/>
<text x="1481.6" y="1191.7" font-size="33" text-anchor="middle">4</text>
<line x1="1606.2" y1="1150.7" x2="1606.2" y2="1162.7" stroke="#2a2a2a" stroke-width="2.4"/>
<text x="1606.7" y="1191.7" font-size="33" text-anchor="middle">5</text>
<line x1="1731.3" y1="1150.7" x2="1731.3" y2="1162.7" stroke="#2a2a2a" stroke-width="2.4"/>
<text x="1731.8" y="1191.7" font-size="33" text-anchor="middle">6</text>
<line x1="1043.2" y1="1150.7" x2="1043.2" y2="1157.7" stroke="#2a2a2a" stroke-width="2.2"/>
<line x1="1168.3" y1="1150.7" x2="1168.3" y2="1157.7" stroke="#2a2a2a" stroke-width="2.2"/>
<line x1="1293.4" y1="1150.7" x2="1293.4" y2="1157.7" stroke="#2a2a2a" stroke-width="2.2"/>
<line x1="1418.5" y1="1150.7" x2="1418.5" y2="1157.7" stroke="#2a2a2a" stroke-width="2.2"/>
<line x1="1543.6" y1="1150.7" x2="1543.6" y2="1157.7" stroke="#2a2a2a" stroke-width="2.2"/>
<line x1="1668.8" y1="1150.7" x2="1668.8" y2="1157.7" stroke="#2a2a2a" stroke-width="2.2"/>
<line x1="1793.8" y1="1150.7" x2="1793.8" y2="1157.7" stroke="#2a2a2a" stroke-width="2.2"/>
<text x="1419.5" y="1227.7" font-size="30.8" text-anchor="middle">Culture time/Days</text>
<text transform="translate(934,871) rotate(-90)" font-size="30.7" text-anchor="middle">Urea concentration</text>
<text transform="translate(971,871) rotate(-90)" font-size="30.4" text-anchor="middle">(μg/ml/10<tspan font-size="19" dy="-11">6</tspan><tspan dy="11"> cells/24 h)</tspan></text>
<text x="1060" y="632" font-size="39">(ii)</text>
<rect x="1382.5" y="615.2" width="406.5" height="88.5" fill="#fff" stroke="#666" stroke-width="2"/>
<rect x="1397.9" y="627.9" width="60.5" height="23.5" fill="#08f808" stroke="#333" stroke-width="2"/>
<text x="1464.4" y="648.1999999999999" font-size="30.7">2D Monolayer</text>
<rect x="1397.9" y="661.2" width="60.5" height="23.5" fill="#0b7b80" stroke="#333" stroke-width="2"/>
<text x="1464.4" y="681.5" font-size="30.7">3D Polymeric scaffold</text>
<path d="M1446.9,894 L1446.9,808.7 L1505,808.7 L1505,825" fill="none" stroke="#111" stroke-width="4" stroke-linecap="round"/>
<text x="1477.5" y="807.2" font-size="30" text-anchor="middle">*</text>
<path d="M1572.7,907.4 L1572.7,821.7 L1631.5,821.7 L1631.5,837" fill="none" stroke="#111" stroke-width="4" stroke-linecap="round"/>
<text x="1603.6" y="820.2" font-size="30" text-anchor="middle">*</text>
<path d="M1700.5,910.5 L1700.5,825 L1758,825 L1758,841.2" fill="none" stroke="#111" stroke-width="4" stroke-linecap="round"/>
<text x="1730.8" y="823.5" font-size="30" text-anchor="middle">*</text>
<text x="5" y="610" font-size="40">(c)</text>
</svg>
</body></html>
